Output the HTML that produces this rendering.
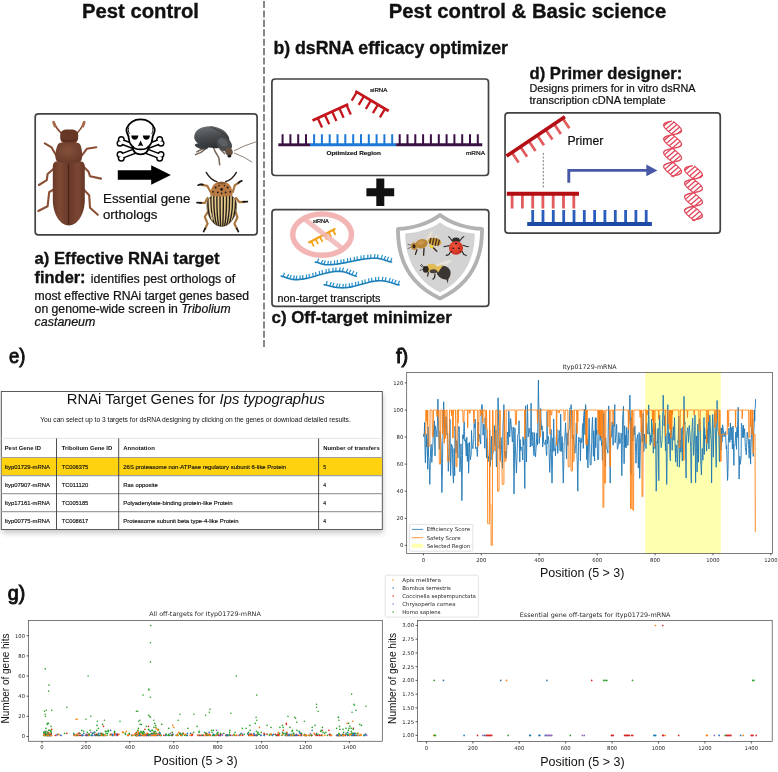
<!DOCTYPE html>
<html lang="en"><head><meta charset="utf-8"><title>dsRNA design figure</title>
<style>
html,body{margin:0;padding:0;background:#fff;}
body{width:778px;height:772px;overflow:hidden;font-family:"Liberation Sans",sans-serif;}
svg{display:block;position:absolute;left:0;top:0;}
text{font-family:"Liberation Sans",sans-serif;fill:#111;}
.b{font-weight:bold;}
.dj{font-family:"DejaVu Sans",sans-serif;fill:#262626;}
.i{font-style:italic;}
.hb{font-weight:bold;stroke:#111;stroke-width:.35px;}
.hr{stroke:#111;stroke-width:.22px;}
.hm{stroke:#111;stroke-width:.9px;}
</style></head><body>
<svg width="778" height="772" viewBox="0 0 778 772">
<rect width="778" height="772" fill="#ffffff"/>
<defs>
<linearGradient id="gEly" x1="0" x2="1" y1="0" y2="0"><stop offset="0" stop-color="#6a3928"/><stop offset="0.22" stop-color="#7d4935"/><stop offset="0.46" stop-color="#6a3a29"/><stop offset="0.54" stop-color="#6a3a29"/><stop offset="0.78" stop-color="#7b4733"/><stop offset="1" stop-color="#653625"/></linearGradient>
<radialGradient id="gPro" cx="0.45" cy="0.4" r="0.7"><stop offset="0" stop-color="#84503a"/><stop offset="1" stop-color="#673828"/></radialGradient>
<linearGradient id="gBlk" x1="0" x2="0.3" y1="0" y2="1"><stop offset="0" stop-color="#72767a"/><stop offset="0.5" stop-color="#4c5052"/><stop offset="1" stop-color="#303234"/></linearGradient>
<radialGradient id="gLady" cx="0.4" cy="0.35" r="0.75"><stop offset="0" stop-color="#f0553a"/><stop offset="1" stop-color="#c8281c"/></radialGradient>
<clipPath id="cpCol"><ellipse cx="221.5" cy="210" rx="15.6" ry="16.6"/></clipPath>
<clipPath id="cpBee"><ellipse cx="0" cy="0" rx="6.9" ry="3.9"/></clipPath>
</defs>
<text x="82" y="17.6" font-size="20" class="hb" textLength="117" lengthAdjust="spacingAndGlyphs">Pest control</text>
<text x="388.7" y="17.6" font-size="20" class="hb" textLength="277.5" lengthAdjust="spacingAndGlyphs">Pest control &amp; Basic science</text>
<text x="273.4" y="53.5" font-size="17.5" class="hb" textLength="234.6" lengthAdjust="spacingAndGlyphs">b) dsRNA efficacy optimizer</text>
<text x="271.5" y="323" font-size="17.2" class="hb" textLength="180.3" lengthAdjust="spacingAndGlyphs">c) Off-target minimizer</text>
<text x="529.5" y="78.8" font-size="16.5" class="hb" textLength="152.7" lengthAdjust="spacingAndGlyphs">d) Primer designer:</text>
<text x="529.5" y="92" font-size="10.8" class="hr" textLength="166" lengthAdjust="spacingAndGlyphs">Designs primers for in vitro dsRNA</text>
<text x="529.5" y="104.4" font-size="10.8" class="hr" textLength="136" lengthAdjust="spacingAndGlyphs">transcription cDNA template</text>
<text x="34.6" y="264" font-size="16.5" class="hb" textLength="185" lengthAdjust="spacingAndGlyphs">a) Effective RNAi target</text>
<text x="34.6" y="283.2" font-size="16.5" class="hb" textLength="51" lengthAdjust="spacingAndGlyphs">finder:</text>
<text x="90.8" y="283.2" font-size="12" class="hr" textLength="144.3" lengthAdjust="spacingAndGlyphs">identifies pest orthologs of</text>
<text x="34.6" y="299.5" font-size="12" class="hr" textLength="214.4" lengthAdjust="spacingAndGlyphs">most effective RNAi target genes based</text>
<text x="34.6" y="312.8" font-size="12" class="hr" textLength="196" lengthAdjust="spacingAndGlyphs">on genome-wide screen in <tspan class="i">Tribolium</tspan></text>
<text x="34.6" y="326" font-size="12" class="i hr" textLength="60.8" lengthAdjust="spacingAndGlyphs">castaneum</text>
<line x1="264" y1="1" x2="264" y2="346.9" stroke="#7b7b7b" stroke-width="1.8" stroke-dasharray="7.1 2.32"/>
<rect x="35.2" y="113.9" width="221.9" height="121" rx="3.2" fill="#fff" stroke="#424242" stroke-width="1.7"/>
<rect x="271.9" y="79" width="216.6" height="96.5" rx="3.2" fill="#fff" stroke="#424242" stroke-width="1.7"/>
<rect x="272" y="209.6" width="216.8" height="96.8" rx="3.2" fill="#fff" stroke="#424242" stroke-width="1.7"/>
<rect x="505.05" y="112.95" width="215.2" height="120.25" rx="3.2" fill="#fff" stroke="#424242" stroke-width="1.7"/>
<path d="M376.3 178.5h8v9.8h9.9v8h-9.9v9.7h-8v-9.7h-9.9v-8h9.9z" fill="#111"/>
<text x="103" y="203" font-size="13.2" class="hr" textLength="87.3" lengthAdjust="spacingAndGlyphs">Essential gene</text>
<text x="103" y="218.5" font-size="13.2" class="hr" textLength="54.5" lengthAdjust="spacingAndGlyphs">orthologs</text>
<path d="M117.8 170.3H151.2V165.3L170.9 175L151.2 184.8V179.8H117.8Z" fill="#000"/>
<path d="M56.5 156 L51.6 147.4 L44.8 143.4 M81.5 156 L86.8 148.8 L96.3 147.2 M54.5 168 L47.6 174 L46.8 180.2 L38.9 185 M82.8 166 L88.4 171.4 L90 176.2 L101 178.6 M54.5 189 L49.2 192.2 L47.6 206.3 L38.3 211 M83.2 189 L89.2 195.2 L90 207.8 L97.8 214.8" stroke="#8b4f36" stroke-width="2.1" fill="none" stroke-linecap="round" stroke-linejoin="round"/>
<path d="M61.5 133.5 Q57 129 54.6 124.5 M76.8 133.5 Q81 129 83.2 124.5" stroke="#8a4f36" stroke-width="1.7" fill="none" stroke-linecap="round"/>
<path d="M55 126 L53.6 122.3 M82.9 126 L84.2 122.3" stroke="#a8694a" stroke-width="2.8" fill="none" stroke-linecap="round"/>
<rect x="60.2" y="129.6" width="18" height="14" rx="5.5" fill="#673726"/>
<path d="M62.5 139.5 Q69 143 76 139.5" stroke="#4a2316" stroke-width="0.9" fill="none"/>
<path d="M52.8 166.5 Q52.8 161.2 58 161.2 H79.5 Q84.8 161.2 84.8 166.5 V200 C84.8 214 77.5 225.5 68.8 225.5 C60.1 225.5 52.8 214 52.8 200Z" fill="url(#gEly)"/>
<path d="M68.6 164 V224.5" stroke="#3f1d12" stroke-width="0.9"/>
<path d="M57 146.5 Q58 142.6 62 142.6 H76 Q80 142.6 81 146.5 Q83 154 81.8 159 Q81 162.4 77 162.4 H60.5 Q56.5 162.4 55.7 159 Q54.5 154 57 146.5Z" fill="url(#gPro)"/>
<line x1="121.2" y1="141.6" x2="159.8" y2="156.2" stroke="#000" stroke-width="6" stroke-linecap="butt"/>
<circle cx="121.3" cy="139.6" r="3.5" fill="#000"/>
<circle cx="120.0" cy="143.2" r="3.5" fill="#000"/>
<circle cx="161.0" cy="154.6" r="3.5" fill="#000"/>
<circle cx="159.7" cy="158.2" r="3.5" fill="#000"/>
<line x1="121.2" y1="141.6" x2="159.8" y2="156.2" stroke="#fff" stroke-width="3.1"/>
<circle cx="121.3" cy="139.6" r="2.05" fill="#fff"/>
<circle cx="120.0" cy="143.2" r="2.05" fill="#fff"/>
<circle cx="161.0" cy="154.6" r="2.05" fill="#fff"/>
<circle cx="159.7" cy="158.2" r="2.05" fill="#fff"/>
<line x1="159.8" y1="141.6" x2="121.2" y2="156.2" stroke="#000" stroke-width="6" stroke-linecap="butt"/>
<circle cx="161.0" cy="143.2" r="3.5" fill="#000"/>
<circle cx="159.7" cy="139.6" r="3.5" fill="#000"/>
<circle cx="121.3" cy="158.2" r="3.5" fill="#000"/>
<circle cx="120.0" cy="154.6" r="3.5" fill="#000"/>
<line x1="159.8" y1="141.6" x2="121.2" y2="156.2" stroke="#fff" stroke-width="3.1"/>
<circle cx="161.0" cy="143.2" r="2.05" fill="#fff"/>
<circle cx="159.7" cy="139.6" r="2.05" fill="#fff"/>
<circle cx="121.3" cy="158.2" r="2.05" fill="#fff"/>
<circle cx="120.0" cy="154.6" r="2.05" fill="#fff"/>
<path d="M140.6 119.4 C133 119.4 128.6 124 126.6 128.6 C125.6 131.5 127.4 133.5 128.4 136 C129 139 128.8 142 130.6 144.2 C132 145.6 132.6 146.6 132.8 148.2 C133.4 152.8 137 154.4 140.6 154.4 C144.2 154.4 147.8 152.8 148.4 148.2 C148.6 146.6 149.2 145.6 150.6 144.2 C152.4 142 152.2 139 152.8 136 C153.8 133.5 155.6 131.5 154.6 128.6 C152.6 124 148.2 119.4 140.6 119.4Z" fill="#fff" stroke="#000" stroke-width="1.8" stroke-linejoin="round"/>
<path d="M132.6 146 C134.5 150.5 146.7 150.5 148.6 146" fill="none" stroke="#000" stroke-width="1.7"/>
<path d="M128.8 127.5 C127.6 130 128.6 132 129.4 134 M152.4 127.5 C153.6 130 152.6 132 151.8 134" fill="none" stroke="#000" stroke-width="0.9"/>
<path d="M131.2 135.4 H138.4 Q137.8 139.8 134.8 139.8 Q131.8 139.8 131.2 135.4Z M142.8 135.4 H150 Q149.4 139.8 146.4 139.8 Q143.4 139.8 142.8 135.4Z" fill="#000"/>
<path d="M140.6 140.4 L143.3 146.2 Q140.6 144.8 137.9 146.2Z" fill="#000"/>
<path d="M234 150.9 Q245 145 255.8 141.9 M234 153 Q244 156.4 252.2 162.2" stroke="#7d6b5e" stroke-width="0.85" fill="none"/>
<path d="M213 146.5 L215.4 152 L218.8 157.6 L219.7 164.8 M208 147 L201 152.4 L195.4 154.6 M204 148 L196.8 151.8 M220 149 L224.5 153.6" stroke="#77665a" stroke-width="1.5" fill="none" stroke-linecap="round" stroke-linejoin="round"/>
<ellipse cx="201.4" cy="146.4" rx="6.8" ry="2.6" transform="rotate(14 201.4 146.4)" fill="#3b3f41"/>
<path d="M194.2 137 C194.2 129 203 125.6 211.5 126.2 C221 127 228.5 132.6 229.4 139.6 C229.8 143 228 146.6 224 147.6 C214 149.6 194.6 147 194.2 137Z" fill="url(#gBlk)"/>
<path d="M210.4 126.6 Q221 130.4 228.6 138" stroke="#2e3032" stroke-width="0.7" fill="none"/>
<ellipse cx="224.2" cy="144.2" rx="8.6" ry="6.5" transform="rotate(38 224.2 144.2)" fill="#464a4c"/>
<ellipse cx="223" cy="142.4" rx="5.4" ry="3.6" transform="rotate(38 223 142.4)" fill="#5b5f61"/>
<ellipse cx="228.9" cy="151.6" rx="3.7" ry="4.2" transform="rotate(-25 228.9 151.6)" fill="#66503f"/>
<ellipse cx="229.4" cy="156" rx="2" ry="1.5" fill="#1f1d1c"/>
<path d="M210.6 192 L207.2 185.8 L201 184.6 M232.8 192 L234.8 185.2 L239 182.6 M207.5 198 L204.8 203 L200 202.8 M236 198 L239.4 202.2 L244.6 201.8 M207.6 212.2 L204.8 216.8 L207.6 223.6 L205 229 M235.8 212.2 L237.4 217.6 L234.4 223.8 L237 229" stroke="#a9783f" stroke-width="2.2" fill="none" stroke-linecap="round" stroke-linejoin="round"/>
<path d="M203 184.6 Q200.4 183.8 198.2 185.2 M238.2 183 Q240 181.2 241.8 180.8 M201.4 202.8 L197 202.6 M243 201.8 L247.4 201.6 M205.2 228.4 L203.6 231.6 M236.8 228.4 L238.4 231.6" stroke="#1a1613" stroke-width="1.7" fill="none" stroke-linecap="round"/>
<path d="M217 181.8 Q210.6 180 206.2 172.4 M225.6 181.6 Q232.2 180 236.4 172.4" stroke="#2a201a" stroke-width="1.4" fill="none" stroke-linecap="round"/>
<clipPath id="cpCol2"><path d="M221.7 194 C230.5 193.2 236.6 197 236.6 205.5 C236.6 216.5 230 226.4 221.7 226.4 C213.4 226.4 206.9 216.5 206.9 205.5 C206.9 197 212.9 193.2 221.7 194Z"/></clipPath>
<path d="M221.7 194 C230.5 193.2 236.6 197 236.6 205.5 C236.6 216.5 230 226.4 221.7 226.4 C213.4 226.4 206.9 216.5 206.9 205.5 C206.9 197 212.9 193.2 221.7 194Z" fill="#e6c888"/>
<g clip-path="url(#cpCol2)"><path d="M208.1 192 Q206.5 214 213.6 227M211.1 192 Q209.8 214 215.4 227M214.0 192 Q213.1 214 217.1 227M217.0 192 Q216.4 214 218.9 227M220.1 192 Q219.9 214 220.7 227M223.3 192 Q223.5 214 222.7 227M226.4 192 Q227.0 214 224.5 227M229.4 192 Q230.3 214 226.2 227M232.3 192 Q233.6 214 228.0 227M235.3 192 Q236.9 214 229.8 227" stroke="#26201b" stroke-width="1.4" fill="none"/><path d="M209.6 199 Q208.6 210 213 220" stroke="#f6ead0" stroke-width="0.9" fill="none" opacity="0.8"/></g>
<path d="M221.7 194 C230.5 193.2 236.6 197 236.6 205.5 C236.6 216.5 230 226.4 221.7 226.4 C213.4 226.4 206.9 216.5 206.9 205.5 C206.9 197 212.9 193.2 221.7 194Z" fill="none" stroke="#3a2a1c" stroke-width="0.6"/>
<path d="M210 195.2 Q210.6 186 216 182.8 Q221.6 180.6 227.2 182.8 Q232.8 186 232.6 195.2 Q221.6 197.6 210 195.2Z" fill="#b97a43"/>
<path d="M216.5 183 Q221.6 180.4 226.8 183 Q221.6 185.5 216.5 183Z" fill="#8a5a30"/>
<circle cx="215.6" cy="187.6" r="1.0" fill="#1c1512"/><circle cx="227.6" cy="187.6" r="1.0" fill="#1c1512"/><circle cx="221.6" cy="189.4" r="1.3" fill="#1c1512"/><circle cx="213" cy="191.8" r="0.9" fill="#1c1512"/><circle cx="230.2" cy="191.8" r="0.9" fill="#1c1512"/><circle cx="217.8" cy="192.4" r="0.9" fill="#1c1512"/><circle cx="225.6" cy="192.4" r="0.9" fill="#1c1512"/><circle cx="219" cy="185.6" r="0.8" fill="#1c1512"/><circle cx="224.4" cy="185.6" r="0.8" fill="#1c1512"/><circle cx="221.6" cy="193.4" r="0.8" fill="#1c1512"/>
<path d="M282.6 144.8V134.2M290.4 144.8V134.2M298.2 144.8V134.2M306.0 144.8V134.2" stroke="#3b1143" stroke-width="2.0" fill="none"/>
<path d="M314.1 144.8V134.2M321.9 144.8V134.2M329.7 144.8V134.2M337.5 144.8V134.2M345.3 144.8V134.2M353.2 144.8V134.2M361.0 144.8V134.2M368.8 144.8V134.2M376.6 144.8V134.2M384.4 144.8V134.2M392.2 144.8V134.2" stroke="#1e78d6" stroke-width="2.0" fill="none"/>
<path d="M399.7 144.8V134.2M407.5 144.8V134.2M415.3 144.8V134.2M423.1 144.8V134.2M430.9 144.8V134.2M438.8 144.8V134.2M446.6 144.8V134.2M454.4 144.8V134.2M462.2 144.8V134.2M470.0 144.8V134.2M477.8 144.8V134.2" stroke="#3b1143" stroke-width="2.0" fill="none"/>
<line x1="278.3" y1="144.8" x2="310" y2="144.8" stroke="#3b1143" stroke-width="2.9"/>
<line x1="310" y1="144.8" x2="396.1" y2="144.8" stroke="#1e78d6" stroke-width="2.9"/>
<line x1="396.1" y1="144.8" x2="482.3" y2="144.8" stroke="#3b1143" stroke-width="2.9"/>
<path d="M317.78 118.19L322.05 127.56M324.96 114.91L329.24 124.28M332.15 111.63L336.43 121.00M339.34 108.35L343.61 117.72M346.52 105.07L350.80 114.44" stroke="#c4161c" stroke-width="2.3" fill="none"/>
<line x1="312.50" y1="120.60" x2="348.20" y2="104.30" stroke="#c4161c" stroke-width="2.8"/>
<path d="M356.85 92.02L351.73 100.61M363.89 96.22L358.77 104.81M370.94 100.42L365.82 109.01M377.98 104.61L372.86 113.20M385.02 108.81L379.91 117.40" stroke="#c4161c" stroke-width="2.3" fill="none"/>
<line x1="355.30" y1="91.10" x2="388.70" y2="111.00" stroke="#c4161c" stroke-width="2.8"/>
<text x="370" y="91.8" font-size="5.6" class="hr" textLength="17.4" lengthAdjust="spacingAndGlyphs">siRNA</text>
<text x="326.5" y="155.4" font-size="6" class="b" textLength="54.3" lengthAdjust="spacingAndGlyphs" stroke="#111" stroke-width="0.15">Optimized Region</text>
<text x="466" y="155.3" font-size="5.6" class="hr" textLength="19" lengthAdjust="spacingAndGlyphs">mRNA</text>
<path d="M311.24 241.33L313.82 246.30M315.59 239.07L318.17 244.04M319.94 236.82L322.52 241.79M324.29 234.56L326.87 239.53M328.64 232.30L331.22 237.28M332.99 230.05L335.57 235.02" stroke="#f5a21b" stroke-width="1.8" fill="none"/>
<line x1="308.40" y1="242.80" x2="335.40" y2="228.80" stroke="#f5a21b" stroke-width="2.3"/>
<ellipse cx="322.1" cy="234.6" rx="29.4" ry="20.6" fill="none" stroke="#f2b5b4" stroke-width="5.4"/>
<line x1="302.6" y1="217.6" x2="342.4" y2="248.4" stroke="#f2b5b4" stroke-width="5" stroke-opacity="0.85"/>
<text x="312.9" y="222.9" font-size="5.6" class="hr" textLength="16" lengthAdjust="spacingAndGlyphs">siRNA</text>
<path d="M317.3 262.5l1.4 -3.9M321.1 263.8l1.8 -3.8M324.0 264.4l1.3 -3.9M327.8 264.8l0.6 -4.0M330.6 264.7l0.4 -4.0M334.4 264.4l0.2 -4.0M337.3 264.1l0.1 -4.0M341.1 263.5l-0.1 -3.9M343.9 263.0l-0.1 -3.9M347.7 262.2l-0.2 -3.9M350.6 261.6l-0.2 -3.9M354.4 260.8l-0.2 -3.9M357.3 260.2l-0.2 -3.9M361.1 259.5l-0.1 -3.9M363.9 259.1l0.0 -4.0M367.7 258.6l0.2 -4.0M370.6 258.4l0.3 -4.0M374.4 258.2l0.6 -4.0M377.2 258.3l0.9 -4.0M381.0 258.9l1.5 -3.9M383.9 259.7l1.8 -3.8M386.7 260.7l2.0 -3.8M390.5 261.8l1.4 -3.9" stroke="#2b93cc" stroke-width="1.25" fill="none"/>
<path d="M315.4 262.1L316.4 262.3L317.3 262.5L318.3 262.7L319.2 263.1L320.2 263.4L321.1 263.8L322.1 264.0L323.0 264.3L324.0 264.4L324.9 264.6L325.9 264.7L326.8 264.7L327.8 264.8L328.7 264.7L329.7 264.7L330.6 264.7L331.6 264.6L332.5 264.6L333.5 264.5L334.4 264.4L335.4 264.3L336.3 264.2L337.3 264.1L338.2 263.9L339.2 263.8L340.1 263.6L341.1 263.5L342.0 263.3L343.0 263.1L343.9 263.0L344.9 262.8L345.8 262.6L346.8 262.4L347.7 262.2L348.7 262.0L349.6 261.8L350.6 261.6L351.5 261.4L352.5 261.2L353.4 261.0L354.4 260.8L355.4 260.6L356.3 260.4L357.3 260.2L358.2 260.1L359.2 259.9L360.1 259.7L361.1 259.5L362.0 259.4L363.0 259.2L363.9 259.1L364.9 259.0L365.8 258.8L366.8 258.7L367.7 258.6L368.7 258.5L369.6 258.5L370.6 258.4L371.5 258.3L372.5 258.3L373.4 258.3L374.4 258.2L375.3 258.2L376.3 258.3L377.2 258.3L378.2 258.4L379.1 258.6L380.1 258.7L381.0 258.9L382.0 259.2L382.9 259.4L383.9 259.7L384.8 260.0L385.8 260.4L386.7 260.7L387.7 261.1L388.6 261.4L389.6 261.6L390.5 261.8L391.5 262.0" stroke="#1c7fb9" stroke-width="1.6" fill="none" stroke-linecap="round"/>
<path d="M283.1 276.6l1.4 -3.9M286.8 277.9l2.0 -3.8M289.7 278.8l1.6 -3.9M293.4 279.5l1.0 -4.0M296.2 279.6l0.6 -4.0M300.0 279.4l0.2 -4.0M302.8 279.1l0.0 -4.0M306.6 278.4l-0.2 -3.9M309.4 277.7l-0.4 -3.9M313.2 276.7l-0.5 -3.8M316.0 275.9l-0.5 -3.8M319.7 274.8l-0.5 -3.8M322.6 274.0l-0.5 -3.9M326.3 273.0l-0.3 -3.9M329.1 272.4l-0.2 -3.9M332.9 271.7l0.1 -4.0M335.7 271.5l0.3 -4.0M339.5 271.4l0.7 -4.0M342.3 271.6l1.2 -4.0M346.1 272.5l1.8 -3.8M348.9 273.5l2.1 -3.7M351.7 274.7l2.2 -3.7M355.5 276.0l1.5 -3.9" stroke="#2b93cc" stroke-width="1.25" fill="none"/>
<path d="M281.2 276.1L282.1 276.4L283.1 276.6L284.0 276.8L285.0 277.2L285.9 277.5L286.8 277.9L287.8 278.2L288.7 278.5L289.7 278.8L290.6 279.0L291.5 279.2L292.5 279.4L293.4 279.5L294.4 279.6L295.3 279.6L296.2 279.6L297.2 279.6L298.1 279.6L299.1 279.5L300.0 279.4L300.9 279.3L301.9 279.2L302.8 279.1L303.8 278.9L304.7 278.8L305.6 278.6L306.6 278.4L307.5 278.2L308.5 278.0L309.4 277.7L310.3 277.5L311.3 277.2L312.2 277.0L313.2 276.7L314.1 276.4L315.0 276.2L316.0 275.9L316.9 275.6L317.9 275.3L318.8 275.1L319.7 274.8L320.7 274.5L321.6 274.2L322.6 274.0L323.5 273.7L324.4 273.5L325.4 273.2L326.3 273.0L327.3 272.8L328.2 272.6L329.1 272.4L330.1 272.2L331.0 272.0L332.0 271.9L332.9 271.7L333.8 271.6L334.8 271.5L335.7 271.5L336.7 271.4L337.6 271.4L338.5 271.4L339.5 271.4L340.4 271.4L341.4 271.5L342.3 271.6L343.2 271.8L344.2 272.0L345.1 272.2L346.1 272.5L347.0 272.8L347.9 273.2L348.9 273.5L349.8 273.9L350.8 274.3L351.7 274.7L352.6 275.1L353.6 275.5L354.5 275.7L355.5 276.0L356.4 276.2" stroke="#1c7fb9" stroke-width="1.6" fill="none" stroke-linecap="round"/>
<path d="M326.0 285.0l1.2 -4.0M329.7 286.0l1.7 -3.9M332.5 286.7l1.5 -3.9M336.3 287.4l1.2 -4.0M339.1 287.7l0.9 -4.0M342.8 287.9l0.5 -4.0M345.6 287.7l0.3 -4.0M349.4 287.2l-0.0 -3.9M352.2 286.7l-0.2 -3.9M355.9 285.8l-0.4 -3.9M358.7 285.1l-0.5 -3.8M362.5 284.0l-0.5 -3.8M365.3 283.2l-0.5 -3.9M369.0 282.2l-0.3 -3.9M371.8 281.6l-0.1 -3.9M375.6 281.0l0.1 -4.0M378.4 280.8l0.4 -4.0M382.1 280.8l0.8 -4.0M385.0 281.1l1.2 -4.0M388.7 281.9l1.6 -3.9M391.5 282.7l1.8 -3.8M394.3 283.7l1.9 -3.8M398.1 284.7l1.3 -3.9" stroke="#2b93cc" stroke-width="1.25" fill="none"/>
<path d="M324.1 284.7L325.0 284.9L326.0 285.0L326.9 285.2L327.8 285.4L328.8 285.7L329.7 286.0L330.7 286.2L331.6 286.5L332.5 286.7L333.5 286.9L334.4 287.1L335.3 287.3L336.3 287.4L337.2 287.5L338.1 287.6L339.1 287.7L340.0 287.8L341.0 287.8L341.9 287.9L342.8 287.9L343.8 287.8L344.7 287.8L345.6 287.7L346.6 287.6L347.5 287.5L348.4 287.4L349.4 287.2L350.3 287.1L351.3 286.9L352.2 286.7L353.1 286.5L354.1 286.3L355.0 286.1L355.9 285.8L356.9 285.6L357.8 285.3L358.7 285.1L359.7 284.8L360.6 284.5L361.6 284.2L362.5 284.0L363.4 283.7L364.4 283.4L365.3 283.2L366.2 282.9L367.2 282.7L368.1 282.4L369.0 282.2L370.0 282.0L370.9 281.8L371.8 281.6L372.8 281.4L373.7 281.3L374.7 281.2L375.6 281.0L376.5 280.9L377.5 280.9L378.4 280.8L379.3 280.8L380.3 280.8L381.2 280.8L382.1 280.8L383.1 280.9L384.0 281.0L385.0 281.1L385.9 281.3L386.8 281.5L387.8 281.7L388.7 281.9L389.6 282.2L390.6 282.4L391.5 282.7L392.4 283.1L393.4 283.4L394.3 283.7L395.3 284.1L396.2 284.4L397.1 284.6L398.1 284.7L399.0 284.9" stroke="#1c7fb9" stroke-width="1.6" fill="none" stroke-linecap="round"/>
<text x="277.5" y="301.6" font-size="10.9" class="hr" textLength="103" lengthAdjust="spacingAndGlyphs">non-target transcripts</text>
<path d="M440 215 C428.5 224 411 228.8 398 228.8 C397.6 262 412 285.5 440 298.4 C468 285.5 482.4 262 482 228.8 C469 228.8 451.5 224 440 215Z" fill="#fff" stroke="#b2b2b2" stroke-width="3.8" stroke-linejoin="round"/>
<path d="M440 222.6 C430.5 229.4 417 233 405.2 233.4 C405 259 416.5 280.5 440 292.6 C463.5 280.5 475 259 474.8 233.4 C463 233 449.5 229.4 440 222.6Z" fill="#d3d3d3"/>
<path d="M425 241.6 Q427.5 233 433.2 229.6 Q433.6 235.4 428.6 241.8Z M426.6 241.6 Q433 235.4 439.6 234.8 Q436 239.8 429.6 242.6Z" fill="#e8e2d4" fill-opacity="0.8" stroke="#cfc7b6" stroke-width="0.3"/>
<path d="M417 249.6 L415.4 254.4 M424 248.4 L423.6 255.2" stroke="#2f2319" stroke-width="1.3" fill="none" stroke-linecap="round"/>
<path d="M430.4 246 L433 247.6" stroke="#f0cc1e" stroke-width="2.2" fill="none" stroke-linecap="round"/>
<path d="M433.6 248 L436.8 251.2" stroke="#2f2319" stroke-width="1.3" fill="none" stroke-linecap="round"/>
<path d="M412 245.4 L407.6 244.2 M412 247 L407.6 248.6" stroke="#3a2c20" stroke-width="0.6" fill="none"/>
<g transform="translate(434.6 241.8) rotate(12)"><ellipse cx="0" cy="0" rx="6.9" ry="3.9" fill="#d3a23c"/><g clip-path="url(#cpBee)"><path d="M-4.4 -6V6M-1.5 -6V6M1.4 -6V6M4.2 -6V6" stroke="#4a341f" stroke-width="1.45"/></g></g>
<ellipse cx="421.6" cy="243.8" rx="6.2" ry="4.6" transform="rotate(-14 421.6 243.8)" fill="#b98536"/>
<ellipse cx="421" cy="242.6" rx="3.6" ry="2.2" transform="rotate(-14 421 242.6)" fill="#c9974a"/>
<ellipse cx="414.3" cy="246.2" rx="3.3" ry="3.8" fill="#c08c3e"/>
<ellipse cx="414" cy="246.2" rx="1.45" ry="2.0" fill="#2a1d14"/>
<path d="M452 240.8 L450 238 L448.6 236.6 M460 240.8 L462 238 L463.8 236.6 M449.4 245.6 L446 246.2 L444 246.6 M463 245.3 L466 246.2 L468.2 246.6 M450.6 251.8 L448.8 254.6 L446.2 255.4 M462.2 251.6 L464 254.6 L466.4 255.4" stroke="#26282a" stroke-width="1.1" fill="none" stroke-linecap="round" stroke-linejoin="round"/>
<ellipse cx="456" cy="240.4" rx="3.9" ry="2.8" fill="#2a2c2e"/>
<ellipse cx="456" cy="247.9" rx="7.05" ry="6.8" fill="url(#gLady)"/>
<ellipse cx="453.2" cy="248.2" rx="1.1" ry="0.8" fill="#2a1a18"/><ellipse cx="459" cy="248.2" rx="1.1" ry="0.8" fill="#2a1a18"/><circle cx="456" cy="243.4" r="1" fill="#2a1a18"/><circle cx="451.4" cy="251.6" r="0.7" fill="#2a1a18"/><circle cx="460.8" cy="251.6" r="0.7" fill="#2a1a18"/>
<path d="M434 266.4 Q442 260.4 453 259.6 Q449.6 264.6 438.6 267.6Z M435 267 Q442 263.8 449.4 264.6 Q444 267.8 437.4 268.8Z" fill="#ece8df" fill-opacity="0.85" stroke="#d2cbbd" stroke-width="0.3"/>
<path d="M428.4 272.6 L427.6 276.2 M435 274 L434.6 277.4 L433 279.2" stroke="#2a241f" stroke-width="1.2" fill="none" stroke-linecap="round"/>
<path d="M423.6 267.6 L420 265.4 M423.4 269 L419.6 270.6 M423.8 266.8 L421 264" stroke="#2a241f" stroke-width="0.7" fill="none"/>
<path d="M437.5 268 C441 264.2 448 265.6 450.2 270.4 C451.4 274 449.8 277 448.4 279 L447.8 283.6 L446.4 279.6 C442 279.4 437.4 276.6 436.6 272.4Z" fill="#3b3632"/>
<path d="M436 267.2 Q439.6 264.6 443.2 265.4 Q440.4 268.6 438.2 272.4 Q436 270.4 436 267.2Z" fill="#e2be58"/>
<ellipse cx="431.6" cy="268.2" rx="5.8" ry="4.4" fill="#e1bc56"/>
<ellipse cx="433.4" cy="271.2" rx="3.6" ry="2" fill="#4a423a"/>
<ellipse cx="425.8" cy="269.4" rx="2.9" ry="3.3" fill="#2e2924"/>
<path d="M511.89 152.46L518.60 162.41M520.34 146.76L527.06 156.71M528.80 141.06L535.51 151.00M537.26 135.35L543.97 145.30M545.71 129.65L552.42 139.59M554.17 123.94L560.88 133.89M562.62 118.24L569.33 128.18" stroke="#e25c5e" stroke-width="2.7" fill="none"/>
<line x1="506.50" y1="156.10" x2="564.90" y2="116.70" stroke="#b30f14" stroke-width="3.6"/>
<text x="567.4" y="145.3" font-size="12.2" class="hr" textLength="36" lengthAdjust="spacingAndGlyphs">Primer</text>
<line x1="543.3" y1="152.9" x2="543.3" y2="188" stroke="#555" stroke-width="0.8" stroke-dasharray="2 1.6"/>
<path d="M512.1 194V208.4M522.4 194V208.4M532.7 194V208.4M542.9 194V208.4M553.2 194V208.4M563.5 194V208.4M573.8 194V208.4" stroke="#e25c5e" stroke-width="2.8" fill="none"/>
<line x1="506.8" y1="193.8" x2="579" y2="193.8" stroke="#b30f14" stroke-width="4"/>
<path d="M532.7 224V210M543.0 224V210M553.3 224V210M563.7 224V210M574.0 224V210M584.3 224V210M594.6 224V210M604.9 224V210M615.3 224V210M625.6 224V210M635.9 224V210M646.2 224V210" stroke="#2b5dbd" stroke-width="2.8" fill="none"/>
<line x1="527.2" y1="224.1" x2="651.9" y2="224.1" stroke="#1b49a4" stroke-width="4"/>
<path d="M568.8 182.8V170.4H648" stroke="#4658a7" stroke-width="2.9" fill="none"/>
<path d="M646.3 164.6L657.4 170.4L646.3 176.2z" fill="#4658a7"/>
<clipPath id="hx1"><path d="M673.7 121.5L674.5 121.9L675.2 122.3L676.0 122.7L676.7 123.1L677.4 123.5L678.0 123.9L678.7 124.2L679.2 124.6L679.7 125.0L680.2 125.4L680.6 125.8L680.9 126.2L681.1 126.6L681.3 127.0L681.5 127.4L681.5 127.8L681.5 128.2L681.4 128.6L681.2 129.0L681.0 129.4L680.7 129.8L680.3 130.1L679.9 130.5L679.4 130.9L678.8 131.3L678.3 131.7L677.6 132.1L676.9 132.5L676.2 132.9L675.5 133.3L674.7 133.7L673.9 134.1L673.1 134.5L672.3 134.9L671.5 135.2L670.7 135.6L670.0 136.0L669.2 136.4L668.5 136.8L667.8 137.2L667.2 137.6L666.5 138.0L666.0 138.4L665.5 138.8L665.0 139.2L664.6 139.6L664.3 140.0L664.1 140.4L663.9 140.8L663.7 141.1L663.7 141.5L663.7 141.9L663.8 142.3L664.0 142.7L664.2 143.1L664.5 143.5L664.9 143.9L665.3 144.3L665.8 144.7L666.4 145.1L666.9 145.5L667.6 145.9L668.3 146.2L669.0 146.6L669.7 147.0L670.5 147.4L671.3 147.8L672.1 148.2L672.9 148.6L673.7 149.0L674.5 149.4L675.2 149.8L676.0 150.2L676.7 150.6L677.4 151.0L678.0 151.4L678.7 151.8L679.2 152.1L679.7 152.5L680.2 152.9L680.6 153.3L680.9 153.7L681.1 154.1L681.3 154.5L681.5 154.9L681.5 155.3L681.5 155.7L681.4 156.1L681.2 156.5L681.0 156.9L680.7 157.2L680.3 157.6L679.9 158.0L679.4 158.4L678.8 158.8L678.3 159.2L677.6 159.6L676.9 160.0L676.2 160.4L675.5 160.8L674.7 161.2L673.9 161.6L673.1 162.0L672.3 162.4L671.5 162.8L670.7 163.1L670.0 163.5L669.2 163.9L668.5 164.3L667.8 164.7L667.2 165.1L666.5 165.5L666.0 165.9L665.5 166.3L665.0 166.7L664.6 167.1L664.3 167.5L664.1 167.9L663.9 168.2L663.7 168.6L663.7 169.0L663.7 169.4L663.8 169.8L664.0 170.2L664.2 170.6L664.5 171.0L664.9 171.4L665.3 171.8L665.8 172.2L666.4 172.6L666.9 173.0L667.6 173.4L668.3 173.8L669.0 174.1L669.7 174.5L670.5 174.9L671.3 175.3L672.1 175.7L672.9 176.1L673.7 176.5L671.5 176.5L672.3 176.1L673.1 175.7L673.9 175.3L674.7 174.9L675.5 174.5L676.2 174.1L676.9 173.8L677.6 173.4L678.3 173.0L678.8 172.6L679.4 172.2L679.9 171.8L680.3 171.4L680.7 171.0L681.0 170.6L681.2 170.2L681.4 169.8L681.5 169.4L681.5 169.0L681.5 168.6L681.3 168.2L681.1 167.9L680.9 167.5L680.6 167.1L680.2 166.7L679.7 166.3L679.2 165.9L678.7 165.5L678.0 165.1L677.4 164.7L676.7 164.3L676.0 163.9L675.2 163.5L674.5 163.1L673.7 162.8L672.9 162.4L672.1 162.0L671.3 161.6L670.5 161.2L669.7 160.8L669.0 160.4L668.3 160.0L667.6 159.6L666.9 159.2L666.4 158.8L665.8 158.4L665.3 158.0L664.9 157.6L664.5 157.2L664.2 156.9L664.0 156.5L663.8 156.1L663.7 155.7L663.7 155.3L663.7 154.9L663.9 154.5L664.1 154.1L664.3 153.7L664.6 153.3L665.0 152.9L665.5 152.5L666.0 152.1L666.5 151.8L667.2 151.4L667.8 151.0L668.5 150.6L669.2 150.2L670.0 149.8L670.7 149.4L671.5 149.0L672.3 148.6L673.1 148.2L673.9 147.8L674.7 147.4L675.5 147.0L676.2 146.6L676.9 146.2L677.6 145.9L678.3 145.5L678.8 145.1L679.4 144.7L679.9 144.3L680.3 143.9L680.7 143.5L681.0 143.1L681.2 142.7L681.4 142.3L681.5 141.9L681.5 141.5L681.5 141.1L681.3 140.8L681.1 140.4L680.9 140.0L680.6 139.6L680.2 139.2L679.7 138.8L679.2 138.4L678.7 138.0L678.0 137.6L677.4 137.2L676.7 136.8L676.0 136.4L675.2 136.0L674.5 135.6L673.7 135.2L672.9 134.9L672.1 134.5L671.3 134.1L670.5 133.7L669.7 133.3L669.0 132.9L668.3 132.5L667.6 132.1L666.9 131.7L666.4 131.3L665.8 130.9L665.3 130.5L664.9 130.1L664.5 129.8L664.2 129.4L664.0 129.0L663.8 128.6L663.7 128.2L663.7 127.8L663.7 127.4L663.9 127.0L664.1 126.6L664.3 126.2L664.6 125.8L665.0 125.4L665.5 125.0L666.0 124.6L666.5 124.2L667.2 123.9L667.8 123.5L668.5 123.1L669.2 122.7L670.0 122.3L670.7 121.9L671.5 121.5Z" clip-rule="evenodd"/></clipPath><g transform="translate(672.6 149.0) skewY(16) translate(-672.6 -149.0)"><path d="M662.7 115.1L682.5 92.3M662.7 120.0L682.5 97.2M662.7 124.9L682.5 102.1M662.7 129.8L682.5 107.0M662.7 134.7L682.5 111.9M662.7 139.6L682.5 116.8M662.7 144.5L682.5 121.7M662.7 149.4L682.5 126.6M662.7 154.3L682.5 131.5M662.7 159.2L682.5 136.4M662.7 164.1L682.5 141.3M662.7 169.0L682.5 146.2M662.7 173.9L682.5 151.1M662.7 178.8L682.5 156.0M662.7 183.7L682.5 160.9M662.7 188.6L682.5 165.8M662.7 193.5L682.5 170.7M662.7 198.4L682.5 175.6M662.7 203.3L682.5 180.5" stroke="#e2475b" stroke-width="1.15" fill="none" clip-path="url(#hx1)"/><path d="M673.7 121.5L674.5 121.9L675.2 122.3L676.0 122.7L676.7 123.1L677.4 123.5L678.0 123.9L678.7 124.2L679.2 124.6L679.7 125.0L680.2 125.4L680.6 125.8L680.9 126.2L681.1 126.6L681.3 127.0L681.5 127.4L681.5 127.8L681.5 128.2L681.4 128.6L681.2 129.0L681.0 129.4L680.7 129.8L680.3 130.1L679.9 130.5L679.4 130.9L678.8 131.3L678.3 131.7L677.6 132.1L676.9 132.5L676.2 132.9L675.5 133.3L674.7 133.7L673.9 134.1L673.1 134.5L672.3 134.9L671.5 135.2L670.7 135.6L670.0 136.0L669.2 136.4L668.5 136.8L667.8 137.2L667.2 137.6L666.5 138.0L666.0 138.4L665.5 138.8L665.0 139.2L664.6 139.6L664.3 140.0L664.1 140.4L663.9 140.8L663.7 141.1L663.7 141.5L663.7 141.9L663.8 142.3L664.0 142.7L664.2 143.1L664.5 143.5L664.9 143.9L665.3 144.3L665.8 144.7L666.4 145.1L666.9 145.5L667.6 145.9L668.3 146.2L669.0 146.6L669.7 147.0L670.5 147.4L671.3 147.8L672.1 148.2L672.9 148.6L673.7 149.0L674.5 149.4L675.2 149.8L676.0 150.2L676.7 150.6L677.4 151.0L678.0 151.4L678.7 151.8L679.2 152.1L679.7 152.5L680.2 152.9L680.6 153.3L680.9 153.7L681.1 154.1L681.3 154.5L681.5 154.9L681.5 155.3L681.5 155.7L681.4 156.1L681.2 156.5L681.0 156.9L680.7 157.2L680.3 157.6L679.9 158.0L679.4 158.4L678.8 158.8L678.3 159.2L677.6 159.6L676.9 160.0L676.2 160.4L675.5 160.8L674.7 161.2L673.9 161.6L673.1 162.0L672.3 162.4L671.5 162.8L670.7 163.1L670.0 163.5L669.2 163.9L668.5 164.3L667.8 164.7L667.2 165.1L666.5 165.5L666.0 165.9L665.5 166.3L665.0 166.7L664.6 167.1L664.3 167.5L664.1 167.9L663.9 168.2L663.7 168.6L663.7 169.0L663.7 169.4L663.8 169.8L664.0 170.2L664.2 170.6L664.5 171.0L664.9 171.4L665.3 171.8L665.8 172.2L666.4 172.6L666.9 173.0L667.6 173.4L668.3 173.8L669.0 174.1L669.7 174.5L670.5 174.9L671.3 175.3L672.1 175.7L672.9 176.1L673.7 176.5" stroke="#e2475b" stroke-width="1.3" fill="none" stroke-linejoin="round" stroke-linecap="round"/><path d="M671.5 121.5L670.7 121.9L670.0 122.3L669.2 122.7L668.5 123.1L667.8 123.5L667.2 123.9L666.5 124.2L666.0 124.6L665.5 125.0L665.0 125.4L664.6 125.8L664.3 126.2L664.1 126.6L663.9 127.0L663.7 127.4L663.7 127.8L663.7 128.2L663.8 128.6L664.0 129.0L664.2 129.4L664.5 129.8L664.9 130.1L665.3 130.5L665.8 130.9L666.4 131.3L666.9 131.7L667.6 132.1L668.3 132.5L669.0 132.9L669.7 133.3L670.5 133.7L671.3 134.1L672.1 134.5L672.9 134.9L673.7 135.2L674.5 135.6L675.2 136.0L676.0 136.4L676.7 136.8L677.4 137.2L678.0 137.6L678.7 138.0L679.2 138.4L679.7 138.8L680.2 139.2L680.6 139.6L680.9 140.0L681.1 140.4L681.3 140.8L681.5 141.1L681.5 141.5L681.5 141.9L681.4 142.3L681.2 142.7L681.0 143.1L680.7 143.5L680.3 143.9L679.9 144.3L679.4 144.7L678.8 145.1L678.3 145.5L677.6 145.9L676.9 146.2L676.2 146.6L675.5 147.0L674.7 147.4L673.9 147.8L673.1 148.2L672.3 148.6L671.5 149.0L670.7 149.4L670.0 149.8L669.2 150.2L668.5 150.6L667.8 151.0L667.2 151.4L666.5 151.8L666.0 152.1L665.5 152.5L665.0 152.9L664.6 153.3L664.3 153.7L664.1 154.1L663.9 154.5L663.7 154.9L663.7 155.3L663.7 155.7L663.8 156.1L664.0 156.5L664.2 156.9L664.5 157.2L664.9 157.6L665.3 158.0L665.8 158.4L666.4 158.8L666.9 159.2L667.6 159.6L668.3 160.0L669.0 160.4L669.7 160.8L670.5 161.2L671.3 161.6L672.1 162.0L672.9 162.4L673.7 162.8L674.5 163.1L675.2 163.5L676.0 163.9L676.7 164.3L677.4 164.7L678.0 165.1L678.7 165.5L679.2 165.9L679.7 166.3L680.2 166.7L680.6 167.1L680.9 167.5L681.1 167.9L681.3 168.2L681.5 168.6L681.5 169.0L681.5 169.4L681.4 169.8L681.2 170.2L681.0 170.6L680.7 171.0L680.3 171.4L679.9 171.8L679.4 172.2L678.8 172.6L678.3 173.0L677.6 173.4L676.9 173.8L676.2 174.1L675.5 174.5L674.7 174.9L673.9 175.3L673.1 175.7L672.3 176.1L671.5 176.5" stroke="#e2475b" stroke-width="1.3" fill="none" stroke-linejoin="round" stroke-linecap="round"/></g>
<clipPath id="hx2"><path d="M694.6 166.0L695.4 166.4L696.1 166.8L696.9 167.2L697.6 167.6L698.3 167.9L698.9 168.3L699.6 168.7L700.1 169.1L700.6 169.5L701.1 169.9L701.5 170.3L701.8 170.7L702.0 171.1L702.2 171.4L702.4 171.8L702.4 172.2L702.4 172.6L702.3 173.0L702.1 173.4L701.9 173.8L701.6 174.2L701.2 174.6L700.8 175.0L700.3 175.3L699.7 175.7L699.2 176.1L698.5 176.5L697.8 176.9L697.1 177.3L696.4 177.7L695.6 178.1L694.8 178.5L694.0 178.8L693.2 179.2L692.4 179.6L691.6 180.0L690.9 180.4L690.1 180.8L689.4 181.2L688.7 181.6L688.1 182.0L687.4 182.3L686.9 182.7L686.4 183.1L685.9 183.5L685.5 183.9L685.2 184.3L685.0 184.7L684.8 185.1L684.6 185.5L684.6 185.9L684.6 186.2L684.7 186.6L684.9 187.0L685.1 187.4L685.4 187.8L685.8 188.2L686.2 188.6L686.7 189.0L687.3 189.4L687.8 189.7L688.5 190.1L689.2 190.5L689.9 190.9L690.6 191.3L691.4 191.7L692.2 192.1L693.0 192.5L693.8 192.9L694.6 193.2L695.4 193.6L696.1 194.0L696.9 194.4L697.6 194.8L698.3 195.2L698.9 195.6L699.6 196.0L700.1 196.4L700.6 196.8L701.1 197.1L701.5 197.5L701.8 197.9L702.0 198.3L702.2 198.7L702.4 199.1L702.4 199.5L702.4 199.9L702.3 200.3L702.1 200.6L701.9 201.0L701.6 201.4L701.2 201.8L700.8 202.2L700.3 202.6L699.7 203.0L699.2 203.4L698.5 203.8L697.8 204.2L697.1 204.5L696.4 204.9L695.6 205.3L694.8 205.7L694.0 206.1L693.2 206.5L692.4 206.9L691.6 207.3L690.9 207.7L690.1 208.0L689.4 208.4L688.7 208.8L688.1 209.2L687.4 209.6L686.9 210.0L686.4 210.4L685.9 210.8L685.5 211.2L685.2 211.5L685.0 211.9L684.8 212.3L684.6 212.7L684.6 213.1L684.6 213.5L684.7 213.9L684.9 214.3L685.1 214.7L685.4 215.1L685.8 215.4L686.2 215.8L686.7 216.2L687.3 216.6L687.8 217.0L688.5 217.4L689.2 217.8L689.9 218.2L690.6 218.6L691.4 218.9L692.2 219.3L693.0 219.7L693.8 220.1L694.6 220.5L692.4 220.5L693.2 220.1L694.0 219.7L694.8 219.3L695.6 218.9L696.4 218.6L697.1 218.2L697.8 217.8L698.5 217.4L699.2 217.0L699.7 216.6L700.3 216.2L700.8 215.8L701.2 215.4L701.6 215.1L701.9 214.7L702.1 214.3L702.3 213.9L702.4 213.5L702.4 213.1L702.4 212.7L702.2 212.3L702.0 211.9L701.8 211.5L701.5 211.2L701.1 210.8L700.6 210.4L700.1 210.0L699.6 209.6L698.9 209.2L698.3 208.8L697.6 208.4L696.9 208.0L696.1 207.7L695.4 207.3L694.6 206.9L693.8 206.5L693.0 206.1L692.2 205.7L691.4 205.3L690.6 204.9L689.9 204.5L689.2 204.2L688.5 203.8L687.8 203.4L687.3 203.0L686.7 202.6L686.2 202.2L685.8 201.8L685.4 201.4L685.1 201.0L684.9 200.6L684.7 200.3L684.6 199.9L684.6 199.5L684.6 199.1L684.8 198.7L685.0 198.3L685.2 197.9L685.5 197.5L685.9 197.1L686.4 196.8L686.9 196.4L687.4 196.0L688.1 195.6L688.7 195.2L689.4 194.8L690.1 194.4L690.9 194.0L691.6 193.6L692.4 193.2L693.2 192.9L694.0 192.5L694.8 192.1L695.6 191.7L696.4 191.3L697.1 190.9L697.8 190.5L698.5 190.1L699.2 189.7L699.7 189.4L700.3 189.0L700.8 188.6L701.2 188.2L701.6 187.8L701.9 187.4L702.1 187.0L702.3 186.6L702.4 186.2L702.4 185.9L702.4 185.5L702.2 185.1L702.0 184.7L701.8 184.3L701.5 183.9L701.1 183.5L700.6 183.1L700.1 182.7L699.6 182.3L698.9 182.0L698.3 181.6L697.6 181.2L696.9 180.8L696.1 180.4L695.4 180.0L694.6 179.6L693.8 179.2L693.0 178.8L692.2 178.5L691.4 178.1L690.6 177.7L689.9 177.3L689.2 176.9L688.5 176.5L687.8 176.1L687.3 175.7L686.7 175.3L686.2 175.0L685.8 174.6L685.4 174.2L685.1 173.8L684.9 173.4L684.7 173.0L684.6 172.6L684.6 172.2L684.6 171.8L684.8 171.4L685.0 171.1L685.2 170.7L685.5 170.3L685.9 169.9L686.4 169.5L686.9 169.1L687.4 168.7L688.1 168.3L688.7 167.9L689.4 167.6L690.1 167.2L690.9 166.8L691.6 166.4L692.4 166.0Z" clip-rule="evenodd"/></clipPath><g transform="translate(693.5 193.25) skewY(16) translate(-693.5 -193.25)"><path d="M683.6 159.6L703.4 136.8M683.6 164.5L703.4 141.7M683.6 169.4L703.4 146.6M683.6 174.3L703.4 151.5M683.6 179.2L703.4 156.4M683.6 184.1L703.4 161.3M683.6 189.0L703.4 166.2M683.6 193.9L703.4 171.1M683.6 198.8L703.4 176.0M683.6 203.7L703.4 180.9M683.6 208.6L703.4 185.8M683.6 213.5L703.4 190.7M683.6 218.4L703.4 195.6M683.6 223.3L703.4 200.5M683.6 228.2L703.4 205.4M683.6 233.1L703.4 210.3M683.6 238.0L703.4 215.2M683.6 242.9L703.4 220.1M683.6 247.8L703.4 225.0" stroke="#e2475b" stroke-width="1.15" fill="none" clip-path="url(#hx2)"/><path d="M694.6 166.0L695.4 166.4L696.1 166.8L696.9 167.2L697.6 167.6L698.3 167.9L698.9 168.3L699.6 168.7L700.1 169.1L700.6 169.5L701.1 169.9L701.5 170.3L701.8 170.7L702.0 171.1L702.2 171.4L702.4 171.8L702.4 172.2L702.4 172.6L702.3 173.0L702.1 173.4L701.9 173.8L701.6 174.2L701.2 174.6L700.8 175.0L700.3 175.3L699.7 175.7L699.2 176.1L698.5 176.5L697.8 176.9L697.1 177.3L696.4 177.7L695.6 178.1L694.8 178.5L694.0 178.8L693.2 179.2L692.4 179.6L691.6 180.0L690.9 180.4L690.1 180.8L689.4 181.2L688.7 181.6L688.1 182.0L687.4 182.3L686.9 182.7L686.4 183.1L685.9 183.5L685.5 183.9L685.2 184.3L685.0 184.7L684.8 185.1L684.6 185.5L684.6 185.9L684.6 186.2L684.7 186.6L684.9 187.0L685.1 187.4L685.4 187.8L685.8 188.2L686.2 188.6L686.7 189.0L687.3 189.4L687.8 189.7L688.5 190.1L689.2 190.5L689.9 190.9L690.6 191.3L691.4 191.7L692.2 192.1L693.0 192.5L693.8 192.9L694.6 193.2L695.4 193.6L696.1 194.0L696.9 194.4L697.6 194.8L698.3 195.2L698.9 195.6L699.6 196.0L700.1 196.4L700.6 196.8L701.1 197.1L701.5 197.5L701.8 197.9L702.0 198.3L702.2 198.7L702.4 199.1L702.4 199.5L702.4 199.9L702.3 200.3L702.1 200.6L701.9 201.0L701.6 201.4L701.2 201.8L700.8 202.2L700.3 202.6L699.7 203.0L699.2 203.4L698.5 203.8L697.8 204.2L697.1 204.5L696.4 204.9L695.6 205.3L694.8 205.7L694.0 206.1L693.2 206.5L692.4 206.9L691.6 207.3L690.9 207.7L690.1 208.0L689.4 208.4L688.7 208.8L688.1 209.2L687.4 209.6L686.9 210.0L686.4 210.4L685.9 210.8L685.5 211.2L685.2 211.5L685.0 211.9L684.8 212.3L684.6 212.7L684.6 213.1L684.6 213.5L684.7 213.9L684.9 214.3L685.1 214.7L685.4 215.1L685.8 215.4L686.2 215.8L686.7 216.2L687.3 216.6L687.8 217.0L688.5 217.4L689.2 217.8L689.9 218.2L690.6 218.6L691.4 218.9L692.2 219.3L693.0 219.7L693.8 220.1L694.6 220.5" stroke="#e2475b" stroke-width="1.3" fill="none" stroke-linejoin="round" stroke-linecap="round"/><path d="M692.4 166.0L691.6 166.4L690.9 166.8L690.1 167.2L689.4 167.6L688.7 167.9L688.1 168.3L687.4 168.7L686.9 169.1L686.4 169.5L685.9 169.9L685.5 170.3L685.2 170.7L685.0 171.1L684.8 171.4L684.6 171.8L684.6 172.2L684.6 172.6L684.7 173.0L684.9 173.4L685.1 173.8L685.4 174.2L685.8 174.6L686.2 175.0L686.7 175.3L687.3 175.7L687.8 176.1L688.5 176.5L689.2 176.9L689.9 177.3L690.6 177.7L691.4 178.1L692.2 178.5L693.0 178.8L693.8 179.2L694.6 179.6L695.4 180.0L696.1 180.4L696.9 180.8L697.6 181.2L698.3 181.6L698.9 182.0L699.6 182.3L700.1 182.7L700.6 183.1L701.1 183.5L701.5 183.9L701.8 184.3L702.0 184.7L702.2 185.1L702.4 185.5L702.4 185.9L702.4 186.2L702.3 186.6L702.1 187.0L701.9 187.4L701.6 187.8L701.2 188.2L700.8 188.6L700.3 189.0L699.7 189.4L699.2 189.7L698.5 190.1L697.8 190.5L697.1 190.9L696.4 191.3L695.6 191.7L694.8 192.1L694.0 192.5L693.2 192.9L692.4 193.2L691.6 193.6L690.9 194.0L690.1 194.4L689.4 194.8L688.7 195.2L688.1 195.6L687.4 196.0L686.9 196.4L686.4 196.8L685.9 197.1L685.5 197.5L685.2 197.9L685.0 198.3L684.8 198.7L684.6 199.1L684.6 199.5L684.6 199.9L684.7 200.3L684.9 200.6L685.1 201.0L685.4 201.4L685.8 201.8L686.2 202.2L686.7 202.6L687.3 203.0L687.8 203.4L688.5 203.8L689.2 204.2L689.9 204.5L690.6 204.9L691.4 205.3L692.2 205.7L693.0 206.1L693.8 206.5L694.6 206.9L695.4 207.3L696.1 207.7L696.9 208.0L697.6 208.4L698.3 208.8L698.9 209.2L699.6 209.6L700.1 210.0L700.6 210.4L701.1 210.8L701.5 211.2L701.8 211.5L702.0 211.9L702.2 212.3L702.4 212.7L702.4 213.1L702.4 213.5L702.3 213.9L702.1 214.3L701.9 214.7L701.6 215.1L701.2 215.4L700.8 215.8L700.3 216.2L699.7 216.6L699.2 217.0L698.5 217.4L697.8 217.8L697.1 218.2L696.4 218.6L695.6 218.9L694.8 219.3L694.0 219.7L693.2 220.1L692.4 220.5" stroke="#e2475b" stroke-width="1.3" fill="none" stroke-linejoin="round" stroke-linecap="round"/></g>
<text x="8.9" y="363.4" font-size="19.6" class="hm" textLength="16.4" lengthAdjust="spacingAndGlyphs">e)</text>
<defs><filter id="sh" x="-5%" y="-5%" width="110%" height="115%"><feGaussianBlur stdDeviation="2.4"/></filter></defs>
<rect x="2.3" y="394.5" width="381.0" height="139.0" fill="#000" fill-opacity="0.2" filter="url(#sh)"/>
<rect x="1.3" y="391.5" width="381.0" height="138.0" fill="#fff" stroke="#4a4a4a" stroke-width="0.9"/>
<text x="66.8" y="404.2" font-size="14.8" textLength="258.2" lengthAdjust="spacingAndGlyphs">RNAi Target Genes for <tspan class="i">Ips typographus</tspan></text>
<text x="40.2" y="422.4" font-size="6.6" textLength="310.6" lengthAdjust="spacingAndGlyphs">You can select up to 3 targets for dsRNA designing by clicking on the genes or download detailed results.</text>
<rect x="1.7000000000000002" y="457.5" width="380.2" height="18" fill="#ffd20f"/>
<path d="M1.3 438.4H382.3" stroke="#dcdcdc" stroke-width="0.8"/>
<path d="M1.3 457.5H382.3M1.3 475.6H382.3M1.3 493.6H382.3M1.3 511.6H382.3" stroke="#a0a0a0" stroke-width="1.1"/>
<path d="M56.5 438.4V529.5M118.7 438.4V529.5M318.6 438.4V529.5" stroke="#3c3c3c" stroke-width="0.9"/>
<text x="4.7" y="450.1" font-size="5.8" class="b" textLength="36.3" lengthAdjust="spacingAndGlyphs">Pest Gene ID</text>
<text x="61.7" y="450.1" font-size="5.8" class="b" textLength="50.5" lengthAdjust="spacingAndGlyphs">Tribolium Gene ID</text>
<text x="123.3" y="450.1" font-size="5.8" class="b" textLength="31.5" lengthAdjust="spacingAndGlyphs">Annotation</text>
<text x="323.2" y="450.1" font-size="5.8" class="b" textLength="56.5" lengthAdjust="spacingAndGlyphs">Number of transfers</text>
<text x="4.7" y="468.6" font-size="5.8" textLength="45.3" lengthAdjust="spacingAndGlyphs" stroke="#111" stroke-width="0.15">Ityp01729-mRNA</text>
<text x="61.7" y="468.6" font-size="5.8" textLength="26.6" lengthAdjust="spacingAndGlyphs" stroke="#111" stroke-width="0.15">TC006375</text>
<text x="123.3" y="468.6" font-size="5.8" textLength="162.8" lengthAdjust="spacingAndGlyphs" stroke="#111" stroke-width="0.15">26S proteasome non-ATPase regulatory subunit 6-like Protein</text>
<text x="323.2" y="468.6" font-size="5.8" textLength="2.8" lengthAdjust="spacingAndGlyphs" stroke="#111" stroke-width="0.15">5</text>
<text x="4.7" y="486.6" font-size="5.8" textLength="45.3" lengthAdjust="spacingAndGlyphs" stroke="#111" stroke-width="0.15">Ityp07907-mRNA</text>
<text x="61.7" y="486.6" font-size="5.8" textLength="26.6" lengthAdjust="spacingAndGlyphs" stroke="#111" stroke-width="0.15">TC011120</text>
<text x="123.3" y="486.6" font-size="5.8" textLength="34.4" lengthAdjust="spacingAndGlyphs" stroke="#111" stroke-width="0.15">Ras opposite</text>
<text x="323.2" y="486.6" font-size="5.8" textLength="2.8" lengthAdjust="spacingAndGlyphs" stroke="#111" stroke-width="0.15">4</text>
<text x="4.7" y="504.7" font-size="5.8" textLength="45.3" lengthAdjust="spacingAndGlyphs" stroke="#111" stroke-width="0.15">Ityp17161-mRNA</text>
<text x="61.7" y="504.7" font-size="5.8" textLength="26.6" lengthAdjust="spacingAndGlyphs" stroke="#111" stroke-width="0.15">TC005185</text>
<text x="123.3" y="504.7" font-size="5.8" textLength="109.2" lengthAdjust="spacingAndGlyphs" stroke="#111" stroke-width="0.15">Polyadenylate-binding protein-like Protein</text>
<text x="323.2" y="504.7" font-size="5.8" textLength="2.8" lengthAdjust="spacingAndGlyphs" stroke="#111" stroke-width="0.15">4</text>
<text x="4.7" y="522.7" font-size="5.8" textLength="45.3" lengthAdjust="spacingAndGlyphs" stroke="#111" stroke-width="0.15">Ityp00775-mRNA</text>
<text x="61.7" y="522.7" font-size="5.8" textLength="26.6" lengthAdjust="spacingAndGlyphs" stroke="#111" stroke-width="0.15">TC008617</text>
<text x="123.3" y="522.7" font-size="5.8" textLength="115.2" lengthAdjust="spacingAndGlyphs" stroke="#111" stroke-width="0.15">Proteasome subunit beta type-4-like Protein</text>
<text x="323.2" y="522.7" font-size="5.8" textLength="2.8" lengthAdjust="spacingAndGlyphs" stroke="#111" stroke-width="0.15">4</text>
<text x="395.9" y="363.3" font-size="19.6" class="hm" textLength="12.3" lengthAdjust="spacingAndGlyphs">f)</text>
<rect x="406.7" y="372.4" width="365.7" height="181.0" fill="#fff"/>
<rect x="645.2" y="372.4" width="75.6" height="181.0" fill="#ffffb0"/>
<path d="M423.4 434.3L423.7 436.6L424.0 436.0L424.3 432.5L424.6 422.3L424.8 439.0L425.1 452.5L425.4 462.8L425.7 450.3L426.0 435.8L426.3 433.9L426.6 447.0L426.9 438.5L427.2 448.8L427.5 459.0L427.7 469.3L428.0 426.6L428.3 441.5L428.6 456.4L428.9 457.5L429.2 463.9L429.5 472.8L429.8 484.4L430.1 471.2L430.4 457.4L430.6 449.6L430.9 446.9L431.2 444.3L431.5 453.3L431.8 462.4L432.1 457.2L432.4 451.9L432.7 446.7L433.0 441.7L433.2 436.7L433.5 431.7L433.8 428.1L434.1 424.5L434.4 420.9L434.7 438.4L435.0 455.9L435.3 425.8L435.6 427.3L435.9 428.9L436.1 430.4L436.4 432.6L436.7 434.7L437.0 436.9L437.3 428.2L437.6 415.6L437.9 399.1L438.2 415.3L438.5 427.2L438.7 434.6L439.0 442.0L439.3 449.4L439.6 440.3L439.9 431.3L440.2 434.2L440.5 437.0L440.8 439.8L441.1 443.9L441.4 462.8L441.6 478.7L441.9 492.6L442.2 480.6L442.5 463.3L442.8 440.6L443.1 429.6L443.4 416.6L443.7 401.8L444.0 416.4L444.3 430.8L444.5 439.3L444.8 433.2L445.1 430.5L445.4 427.8L445.7 422.3L446.0 416.7L446.3 422.8L446.6 428.9L446.9 435.0L447.1 434.5L447.4 434.0L447.7 433.5L448.0 452.5L448.3 471.4L448.6 465.2L448.9 459.0L449.2 452.8L449.5 438.9L449.8 425.1L450.0 419.3L450.3 447.4L450.6 475.5L450.9 465.1L451.2 454.6L451.5 444.2L451.8 444.9L452.1 445.6L452.4 446.2L452.6 459.8L452.9 473.3L453.2 478.5L453.5 483.1L453.8 466.1L454.1 448.5L454.4 462.1L454.7 475.7L455.0 426.3L455.3 433.2L455.5 440.0L455.8 446.9L456.1 453.0L456.4 446.8L456.7 440.6L457.0 441.5L457.3 442.4L457.6 450.2L457.9 458.1L458.2 432.5L458.4 429.4L458.7 426.3L459.0 426.6L459.3 426.9L459.6 449.3L459.9 471.8L460.2 466.1L460.5 460.5L460.8 454.9L461.0 443.9L461.3 455.6L461.6 478.4L461.9 500.7L462.2 478.4L462.5 455.3L462.8 434.7L463.1 436.9L463.4 439.1L463.7 433.3L463.9 427.5L464.2 421.7L464.5 431.5L464.8 441.2L465.1 440.4L465.4 439.6L465.7 445.1L466.0 450.5L466.3 456.0L466.6 440.5L466.8 437.2L467.1 448.2L467.4 461.4L467.7 445.9L468.0 443.3L468.3 453.7L468.6 473.2L468.9 462.9L469.2 452.6L469.4 442.3L469.7 448.1L470.0 453.9L470.3 459.8L470.6 458.0L470.9 456.2L471.2 454.4L471.5 430.4L471.8 437.8L472.1 445.1L472.3 445.6L472.6 447.2L472.9 448.7L473.2 445.2L473.5 441.7L473.8 438.1L474.1 423.6L474.4 425.1L474.7 426.5L474.9 428.0L475.2 419.0L475.5 448.5L475.8 448.4L476.1 448.3L476.4 447.9L476.7 447.4L477.0 451.9L477.3 456.5L477.6 452.6L477.8 437.4L478.1 422.2L478.4 432.0L478.7 441.9L479.0 438.1L479.3 434.4L479.6 435.7L479.9 437.1L480.2 439.4L480.5 441.7L480.7 444.1L481.0 426.7L481.3 409.4L481.6 406.3L481.9 404.6L482.2 404.6L482.5 411.7L482.8 423.4L483.1 435.1L483.3 431.7L483.6 428.3L483.9 424.2L484.2 432.3L484.5 440.3L484.8 448.3L485.1 417.9L485.4 421.8L485.7 425.7L486.0 429.6L486.2 443.8L486.5 458.0L486.8 448.1L487.1 438.2L487.4 446.1L487.7 453.9L488.0 461.8L488.3 459.1L488.6 456.4L488.8 457.6L489.1 458.7L489.4 444.1L489.7 429.5L490.0 448.0L490.3 466.4L490.6 461.6L490.9 456.9L491.2 442.9L491.5 436.3L491.7 448.0L492.0 459.6L492.3 457.6L492.6 455.5L492.9 453.4L493.2 452.5L493.5 451.6L493.8 450.6L494.1 438.1L494.4 425.6L494.6 435.6L494.9 445.6L495.2 439.5L495.5 434.8L495.8 430.0L496.1 448.5L496.4 467.0L496.7 466.7L497.0 447.3L497.2 428.0L497.5 422.7L497.8 412.6L498.1 397.8L498.4 410.8L498.7 427.7L499.0 448.5L499.3 446.0L499.6 443.6L499.9 441.1L500.1 450.7L500.4 460.4L500.7 448.9L501.0 437.4L501.3 443.6L501.6 449.7L501.9 455.9L502.2 462.1L502.5 468.3L502.8 434.7L503.0 427.2L503.3 419.7L503.6 412.2L503.9 404.6L504.2 426.6L504.5 457.0L504.8 455.1L505.1 453.2L505.4 451.3L505.6 454.9L505.9 458.5L506.2 457.2L506.5 455.8L506.8 447.9L507.1 439.9L507.4 432.0L507.7 436.3L508.0 440.6L508.3 444.9L508.5 428.0L508.8 411.1L509.1 419.7L509.4 428.4L509.7 437.0L510.0 430.9L510.3 424.8L510.6 418.6L510.9 421.4L511.1 424.2L511.4 427.1L511.7 430.0L512.0 436.0L512.3 442.0L512.6 441.3L512.9 434.1L513.2 427.0L513.5 454.6L513.8 476.9L514.0 493.9L514.3 474.8L514.6 446.1L514.9 427.8L515.2 438.7L515.5 449.6L515.8 457.3L516.1 465.1L516.4 472.9L516.7 466.1L516.9 459.4L517.2 451.1L517.5 442.8L517.8 434.5L518.1 434.3L518.4 434.2L518.7 434.0L519.0 420.7L519.3 434.5L519.5 448.3L519.8 462.1L520.1 439.5L520.4 445.1L520.7 450.6L521.0 449.0L521.3 447.4L521.6 446.9L521.9 448.3L522.2 449.7L522.4 454.9L522.7 460.1L523.0 436.8L523.3 440.9L523.6 445.0L523.9 439.3L524.2 452.0L524.5 471.1L524.8 488.5L525.0 468.3L525.3 440.8L525.6 405.8L525.9 434.9L526.2 448.4L526.5 462.0L526.8 441.5L527.1 421.0L527.4 404.6L527.7 412.7L527.9 424.8L528.2 436.8L528.5 433.9L528.8 431.1L529.1 428.2L529.4 430.1L529.7 432.1L530.0 434.0L530.3 447.0L530.6 441.0L530.8 423.8L531.1 403.2L531.4 427.2L531.7 441.5L532.0 446.1L532.3 441.5L532.6 436.9L532.9 432.2L533.2 440.2L533.4 448.2L533.7 452.0L534.0 455.7L534.3 444.2L534.6 432.7L534.9 449.6L535.2 453.2L535.5 456.9L535.8 452.5L536.1 448.2L536.3 443.9L536.6 438.4L536.9 432.9L537.2 439.0L537.5 445.1L537.8 427.5L538.1 404.3L538.4 380.2L538.7 400.7L539.0 413.0L539.2 443.5L539.5 438.5L539.8 433.5L540.1 428.4L540.4 420.1L540.7 408.6L541.0 419.0L541.3 423.9L541.6 429.7L541.8 427.8L542.1 425.8L542.4 436.4L542.7 447.0L543.0 439.3L543.3 431.6L543.6 441.7L543.9 442.6L544.2 443.5L544.5 444.4L544.7 444.3L545.0 444.1L545.3 442.0L545.6 439.9L545.9 445.1L546.2 450.3L546.5 455.5L546.8 455.3L547.1 411.4L547.3 443.9L547.6 441.6L547.9 438.9L548.2 436.3L548.5 438.1L548.8 440.0L549.1 450.8L549.4 461.6L549.7 472.4L550.0 465.5L550.2 458.5L550.5 448.8L550.8 439.1L551.1 429.4L551.4 453.2L551.7 471.1L552.0 483.1L552.3 471.5L552.6 454.8L552.9 437.8L553.1 451.4L553.4 435.1L553.7 418.9L554.0 434.5L554.3 450.2L554.6 450.4L554.9 449.5L555.2 448.7L555.5 455.9L555.7 449.5L556.0 443.1L556.3 436.7L556.6 432.9L556.9 429.1L557.2 438.1L557.5 447.0L557.8 453.4L558.1 443.2L558.4 442.6L558.6 441.9L558.9 436.2L559.2 430.4L559.5 437.2L559.8 444.0L560.1 450.8L560.4 432.5L560.7 414.2L561.0 433.0L561.2 451.7L561.5 446.4L561.8 441.1L562.1 436.5L562.4 441.3L562.7 456.8L563.0 472.3L563.3 483.1L563.6 472.8L563.9 457.8L564.1 442.8L564.4 441.7L564.7 440.6L565.0 434.6L565.3 428.7L565.6 422.7L565.9 434.8L566.2 447.0L566.5 459.1L566.8 446.0L567.0 432.9L567.3 437.1L567.6 441.2L567.9 445.3L568.2 437.7L568.5 430.1L568.8 430.1L569.1 430.0L569.4 422.7L569.6 415.3L569.9 407.9L570.2 408.1L570.5 408.3L570.8 408.5L571.1 404.6L571.4 409.7L571.7 417.5L572.0 428.2L572.3 439.0L572.5 438.2L572.8 437.4L573.1 436.2L573.4 435.0L573.7 439.3L574.0 443.5L574.3 447.7L574.6 450.5L574.9 453.2L575.2 450.8L575.4 448.5L575.7 446.1L576.0 434.6L576.3 423.0L576.6 438.3L576.9 453.6L577.2 460.5L577.5 473.0L577.8 491.2L578.0 474.5L578.3 459.1L578.6 440.1L578.9 437.1L579.2 439.3L579.5 441.6L579.8 441.0L580.1 440.5L580.4 460.9L580.7 449.4L580.9 437.9L581.2 440.4L581.5 442.8L581.8 442.0L582.1 441.2L582.4 427.2L582.7 425.3L583.0 423.4L583.3 448.4L583.5 418.4L583.8 415.3L584.1 412.2L584.4 409.1L584.7 429.5L585.0 434.7L585.3 416.1L585.6 404.6L585.9 409.0L586.2 422.7L586.4 445.7L586.7 459.6L587.0 449.1L587.3 438.7L587.6 453.4L587.9 468.0L588.2 457.1L588.5 446.1L588.8 432.1L589.1 418.1L589.3 429.0L589.6 441.0L589.9 453.0L590.2 465.0L590.5 465.0L590.8 464.9L591.1 464.8L591.4 453.2L591.7 441.5L591.9 429.8L592.2 423.5L592.5 417.2L592.8 430.2L593.1 443.3L593.4 456.3L593.7 430.8L594.0 440.8L594.3 450.9L594.6 461.0L594.8 446.6L595.1 432.2L595.4 417.7L595.7 447.7L596.0 417.8L596.3 434.8L596.6 432.4L596.9 430.0L597.2 439.9L597.4 449.8L597.7 459.7L598.0 459.0L598.3 459.2L598.6 459.3L598.9 435.1L599.2 410.9L599.5 420.7L599.8 430.6L600.1 440.5L600.3 438.7L600.6 436.9L600.9 435.2L601.2 438.6L601.5 442.1L601.8 445.6L602.1 441.6L602.4 460.3L602.7 449.3L603.0 438.4L603.2 425.6L603.5 412.8L603.8 425.9L604.1 439.0L604.4 452.2L604.7 454.2L605.0 456.3L605.3 466.6L605.6 437.7L605.8 441.4L606.1 445.0L606.4 448.7L606.7 448.9L607.0 449.2L607.3 449.4L607.6 451.3L607.9 453.2L608.2 430.0L608.5 414.2L608.7 405.9L609.0 415.2L609.3 433.7L609.6 447.5L609.9 447.4L610.2 483.1L610.5 437.1L610.8 437.1L611.1 437.1L611.4 437.2L611.6 432.1L611.9 427.0L612.2 421.9L612.5 429.7L612.8 437.5L613.1 445.3L613.4 422.6L613.7 423.9L614.0 425.2L614.2 426.4L614.5 411.6L614.8 404.6L615.1 442.8L615.4 440.0L615.7 437.3L616.0 434.6L616.3 429.5L616.6 424.4L616.9 433.1L617.1 441.7L617.4 449.3L617.7 448.1L618.0 446.9L618.3 445.7L618.6 439.1L618.9 432.5L619.2 436.2L619.5 440.0L619.7 443.7L620.0 443.4L620.3 443.0L620.6 442.6L620.9 437.8L621.2 433.0L621.5 454.3L621.8 475.7L622.1 458.2L622.4 440.6L622.6 418.7L622.9 414.6L623.2 410.4L623.5 406.3L623.8 435.0L624.1 463.7L624.4 444.8L624.7 425.8L625.0 436.5L625.3 447.2L625.5 441.1L625.8 435.1L626.1 448.0L626.4 437.7L626.7 427.4L627.0 430.7L627.3 445.2L627.6 445.2L627.9 445.2L628.1 445.2L628.4 435.2L628.7 425.3L629.0 421.9L629.3 410.7L629.6 406.7L629.9 395.1L630.2 410.3L630.5 425.0L630.8 457.1L631.0 474.3L631.3 417.5L631.6 422.7L631.9 427.9L632.2 433.2L632.5 437.1L632.8 441.1L633.1 436.6L633.4 432.2L633.6 427.8L633.9 431.4L634.2 435.1L634.5 430.5L634.8 425.9L635.1 432.0L635.4 442.4L635.7 452.8L636.0 463.2L636.3 455.2L636.5 447.1L636.8 439.1L637.1 437.6L637.4 436.0L637.7 434.5L638.0 451.3L638.3 468.1L638.6 456.2L638.9 444.4L639.2 432.5L639.4 455.4L639.7 478.3L640.0 464.7L640.3 451.2L640.6 437.7L640.9 435.2L641.2 432.7L641.5 429.2L641.8 425.7L642.0 433.9L642.3 442.1L642.6 432.5L642.9 423.0L643.2 413.4L643.5 432.4L643.8 451.5L644.1 442.8L644.4 434.2L644.7 437.9L644.9 441.6L645.2 445.3L645.5 446.4L645.8 447.5L646.1 448.6L646.4 436.0L646.7 423.3L647.0 427.7L647.3 432.0L647.6 432.8L647.8 433.5L648.1 434.2L648.4 419.6L648.7 404.9L649.0 419.5L649.3 434.0L649.6 432.6L649.9 438.9L650.2 445.1L650.4 440.0L650.7 434.9L651.0 438.6L651.3 442.3L651.6 419.2L651.9 422.7L652.2 426.2L652.5 429.7L652.8 437.5L653.1 445.3L653.3 453.2L653.6 448.0L653.9 442.9L654.2 437.8L654.5 428.1L654.8 438.4L655.1 448.7L655.4 423.1L655.7 433.4L655.9 467.4L656.2 491.2L656.5 482.4L656.8 465.9L657.1 441.6L657.4 442.8L657.7 435.6L658.0 428.4L658.3 445.8L658.6 463.3L658.8 480.7L659.1 427.1L659.4 421.1L659.7 415.0L660.0 425.4L660.3 435.8L660.6 439.7L660.9 443.7L661.2 447.7L661.5 445.4L661.7 443.0L662.0 440.7L662.3 434.6L662.6 417.4L662.9 411.2L663.2 395.1L663.5 406.5L663.8 416.8L664.1 425.9L664.3 424.1L664.6 415.8L664.9 427.5L665.2 439.2L665.5 450.8L665.8 433.4L666.1 438.7L666.4 465.0L666.7 484.4L667.0 468.6L667.2 445.3L667.5 414.5L667.8 404.6L668.1 416.9L668.4 430.5L668.7 444.0L669.0 438.4L669.3 432.8L669.6 441.3L669.8 449.8L670.1 458.3L670.4 460.9L670.7 422.5L671.0 425.7L671.3 429.0L671.6 432.3L671.9 441.3L672.2 450.3L672.5 444.6L672.7 439.0L673.0 433.3L673.3 426.8L673.6 433.5L673.9 440.2L674.2 428.9L674.5 417.6L674.8 432.4L675.1 447.3L675.4 454.7L675.6 462.1L675.9 444.6L676.2 444.9L676.5 445.2L676.8 455.0L677.1 460.7L677.4 466.5L677.7 453.6L678.0 440.8L678.2 442.3L678.5 429.1L678.8 416.0L679.1 441.6L679.4 467.2L679.7 458.1L680.0 449.0L680.3 440.0L680.6 446.0L680.9 452.1L681.1 428.2L681.4 435.3L681.7 442.5L682.0 451.8L682.3 461.1L682.6 443.9L682.9 426.7L683.2 435.3L683.5 428.1L683.8 413.9L684.0 396.4L684.3 413.0L684.6 424.3L684.9 422.2L685.2 434.6L685.5 447.0L685.8 462.6L686.1 478.1L686.4 437.6L686.6 435.4L686.9 433.1L687.2 430.9L687.5 429.2L687.8 427.6L688.1 431.9L688.4 442.6L688.7 436.9L689.0 431.1L689.3 425.4L689.5 428.5L689.8 431.7L690.1 434.9L690.4 441.2L690.7 447.5L691.0 473.4L691.3 483.1L691.6 465.8L691.9 432.1L692.1 427.5L692.4 422.8L692.7 418.2L693.0 430.6L693.3 443.0L693.6 455.4L693.9 449.7L694.2 443.9L694.5 438.2L694.8 426.6L695.0 415.1L695.3 448.9L695.6 482.7L695.9 459.2L696.2 435.8L696.5 436.8L696.8 454.4L697.1 472.0L697.4 456.0L697.7 440.1L697.9 424.2L698.2 443.2L698.5 462.2L698.8 441.8L699.1 421.3L699.4 419.9L699.7 418.6L700.0 422.9L700.3 427.2L700.5 443.1L700.8 464.2L701.1 467.4L701.4 475.0L701.7 464.7L702.0 453.4L702.3 448.5L702.6 454.4L702.9 460.2L703.2 450.5L703.4 440.8L703.7 429.1L704.0 417.4L704.3 454.5L704.6 427.8L704.9 433.4L705.2 439.0L705.5 437.8L705.8 436.6L706.0 435.4L706.3 443.2L706.6 451.1L706.9 443.9L707.2 436.7L707.5 429.5L707.8 443.2L708.1 428.7L708.4 414.3L708.7 431.7L708.9 449.0L709.2 437.8L709.5 426.5L709.8 415.2L710.1 421.9L710.4 428.6L710.7 435.2L711.0 439.2L711.3 443.2L711.6 483.0L711.8 458.8L712.1 434.5L712.4 424.5L712.7 414.5L713.0 435.8L713.3 457.2L713.6 442.9L713.9 428.6L714.2 423.5L714.4 418.4L714.7 413.3L715.0 420.8L715.3 428.2L715.6 441.2L715.9 454.2L716.2 467.2L716.5 438.6L716.8 416.4L717.1 400.5L717.3 409.7L717.6 419.6L717.9 430.2L718.2 431.2L718.5 433.5L718.8 435.8L719.1 448.7L719.4 461.6L719.7 444.6L720.0 427.7L720.2 435.4L720.5 443.1L720.8 450.7L721.1 447.3L721.4 443.9L721.7 427.9L722.0 442.1L722.3 433.4L722.6 424.8L722.8 426.4L723.1 428.1L723.4 429.8L723.7 433.3L724.0 436.9L724.3 435.0L724.6 433.1L724.9 432.6L725.2 432.0L725.5 431.5L725.7 437.3L726.0 443.1L726.3 448.9L726.6 445.7L726.9 455.1L727.2 466.7L727.5 480.4L727.8 477.1L728.1 464.8L728.3 443.6L728.6 435.8L728.9 428.0L729.2 432.7L729.5 437.5L729.8 442.3L730.1 432.6L730.4 422.9L730.7 431.4L731.0 439.9L731.2 435.7L731.5 431.6L731.8 427.4L732.1 438.2L732.4 449.0L732.7 437.5L733.0 426.0L733.3 439.1L733.6 452.2L733.9 465.3L734.1 445.1L734.4 445.3L734.7 445.5L735.0 445.6L735.3 440.1L735.6 436.0L735.9 432.0L736.2 440.7L736.5 449.3L736.7 438.4L737.0 427.4L737.3 437.6L737.6 424.3L737.9 415.8L738.2 407.3L738.5 429.4L738.8 456.9L739.1 479.0L739.4 465.1L739.6 458.4L739.9 456.2L740.2 464.4L740.5 462.5L740.8 460.6L741.1 458.7L741.4 423.2L741.7 424.5L742.0 425.8L742.2 427.1L742.5 432.4L742.8 437.8L743.1 431.5L743.4 425.2L743.7 437.4L744.0 434.5L744.3 431.6L744.6 428.7L744.9 435.0L745.1 441.4L745.4 447.7L745.7 450.4L746.0 452.6L746.3 454.8L746.6 447.3L746.9 439.8L747.2 432.3L747.5 434.8L747.8 437.3L748.0 438.2L748.3 439.1L748.6 445.5L748.9 451.9L749.2 458.3L749.5 448.8L749.8 439.3L750.1 447.6L750.4 455.8L750.6 464.1L750.9 448.6L751.2 441.6L751.5 434.6L751.8 427.6L752.1 423.2L752.4 418.8L752.7 434.3L753.0 449.8L753.3 456.4L753.5 449.3L753.8 431.4L754.1 426.4L754.4 410.0L754.7 421.4L755.0 408.7L755.3 407.8L755.6 399.1" fill="none" stroke="#1f77b4" stroke-width="0.9" stroke-linejoin="round"/>
<path d="M423.4 434.3L423.7 434.3L424.0 434.3L424.3 434.3L424.6 434.3L424.8 434.3L425.1 434.3L425.4 434.3L425.7 434.3L426.0 410.0L426.3 421.1L426.6 421.1L426.9 410.0L427.2 410.0L427.5 425.4L427.7 410.0L428.0 446.5L428.3 446.5L428.6 446.5L428.9 446.5L429.2 446.5L429.5 446.5L429.8 446.5L430.1 410.0L430.4 410.0L430.6 410.0L430.9 410.0L431.2 410.0L431.5 410.0L431.8 410.0L432.1 410.0L432.4 436.8L432.7 436.8L433.0 436.8L433.2 436.8L433.5 410.0L433.8 410.0L434.1 410.0L434.4 410.0L434.7 410.0L435.0 410.0L435.3 410.0L435.6 410.0L435.9 410.0L436.1 410.0L436.4 410.0L436.7 410.0L437.0 416.6L437.3 410.0L437.6 410.0L437.9 410.0L438.2 410.0L438.5 416.6L438.7 410.0L439.0 410.0L439.3 464.1L439.6 464.1L439.9 464.1L440.2 464.1L440.5 464.1L440.8 410.0L441.1 410.0L441.4 410.0L441.6 410.0L441.9 410.0L442.2 410.0L442.5 434.0L442.8 410.0L443.1 410.0L443.4 410.0L443.7 410.0L444.0 410.0L444.3 443.3L444.5 410.0L444.8 410.0L445.1 438.4L445.4 438.4L445.7 438.4L446.0 410.0L446.3 410.0L446.6 410.0L446.9 410.0L447.1 410.0L447.4 445.8L447.7 461.4L448.0 461.4L448.3 461.4L448.6 461.4L448.9 461.4L449.2 461.4L449.5 410.0L449.8 410.0L450.0 410.0L450.3 410.0L450.6 410.0L450.9 410.0L451.2 410.0L451.5 415.5L451.8 410.0L452.1 410.0L452.4 410.0L452.6 438.0L452.9 438.0L453.2 438.0L453.5 410.0L453.8 410.0L454.1 410.0L454.4 410.0L454.7 410.0L455.0 410.0L455.3 410.0L455.5 410.0L455.8 436.2L456.1 466.8L456.4 466.8L456.7 466.8L457.0 466.8L457.3 410.0L457.6 410.0L457.9 410.0L458.2 423.2L458.4 410.0L458.7 410.0L459.0 410.0L459.3 410.0L459.6 410.0L459.9 410.0L460.2 410.0L460.5 410.0L460.8 410.0L461.0 410.0L461.3 410.0L461.6 410.0L461.9 410.0L462.2 410.0L462.5 410.0L462.8 410.0L463.1 422.3L463.4 422.3L463.7 422.3L463.9 422.3L464.2 410.0L464.5 410.0L464.8 410.0L465.1 410.0L465.4 410.0L465.7 410.0L466.0 410.0L466.3 410.0L466.6 410.0L466.8 410.0L467.1 410.0L467.4 410.0L467.7 427.8L468.0 410.0L468.3 410.0L468.6 410.0L468.9 410.0L469.2 410.0L469.4 410.0L469.7 413.2L470.0 413.2L470.3 410.0L470.6 410.0L470.9 410.0L471.2 410.0L471.5 410.0L471.8 410.0L472.1 410.0L472.3 410.0L472.6 410.0L472.9 410.0L473.2 410.0L473.5 410.0L473.8 423.0L474.1 423.0L474.4 410.0L474.7 410.0L474.9 410.0L475.2 410.0L475.5 410.0L475.8 410.0L476.1 410.0L476.4 410.0L476.7 410.0L477.0 410.0L477.3 410.0L477.6 410.0L477.8 445.9L478.1 445.9L478.4 445.9L478.7 445.9L479.0 410.0L479.3 410.0L479.6 410.0L479.9 410.0L480.2 410.0L480.5 410.0L480.7 415.6L481.0 415.6L481.3 410.0L481.6 410.0L481.9 410.0L482.2 410.0L482.5 410.0L482.8 422.8L483.1 410.0L483.3 410.0L483.6 410.0L483.9 410.0L484.2 410.0L484.5 410.0L484.8 410.0L485.1 410.0L485.4 427.3L485.7 427.3L486.0 427.3L486.2 410.0L486.5 410.0L486.8 429.3L487.1 429.3L487.4 429.3L487.7 523.7L488.0 523.7L488.3 523.7L488.6 523.7L488.8 523.7L489.1 523.7L489.4 523.7L489.7 410.0L490.0 504.7L490.3 504.7L490.6 504.7L490.9 504.7L491.2 545.4L491.5 545.4L491.7 545.4L492.0 545.4L492.3 545.4L492.6 410.0L492.9 410.0L493.2 432.4L493.5 432.4L493.8 432.4L494.1 450.6L494.4 450.6L494.6 450.6L494.9 450.6L495.2 450.6L495.5 450.6L495.8 410.0L496.1 410.0L496.4 410.0L496.7 410.0L497.0 410.0L497.2 410.0L497.5 491.2L497.8 491.2L498.1 491.2L498.4 491.2L498.7 491.2L499.0 491.2L499.3 431.3L499.6 431.3L499.9 410.0L500.1 410.0L500.4 461.4L500.7 461.4L501.0 461.4L501.3 461.4L501.6 461.4L501.9 461.4L502.2 484.4L502.5 484.4L502.8 484.4L503.0 484.4L503.3 484.4L503.6 484.4L503.9 484.4L504.2 410.0L504.5 410.0L504.8 461.4L505.1 461.4L505.4 461.4L505.6 461.4L505.9 461.4L506.2 410.0L506.5 410.0L506.8 410.0L507.1 410.0L507.4 410.0L507.7 410.0L508.0 410.0L508.3 410.0L508.5 410.0L508.8 410.0L509.1 410.0L509.4 410.0L509.7 410.0L510.0 410.0L510.3 410.0L510.6 410.0L510.9 410.0L511.1 410.0L511.4 410.0L511.7 410.0L512.0 410.0L512.3 410.0L512.6 410.0L512.9 410.0L513.2 410.0L513.5 410.0L513.8 410.0L514.0 410.0L514.3 410.0L514.6 410.0L514.9 410.0L515.2 410.0L515.5 424.7L515.8 424.7L516.1 424.7L516.4 424.7L516.7 410.0L516.9 410.0L517.2 410.0L517.5 410.0L517.8 410.0L518.1 410.0L518.4 410.0L518.7 410.0L519.0 410.0L519.3 410.0L519.5 410.0L519.8 410.0L520.1 410.0L520.4 410.0L520.7 410.0L521.0 410.0L521.3 410.0L521.6 410.0L521.9 410.0L522.2 410.0L522.4 410.0L522.7 410.0L523.0 410.0L523.3 410.0L523.6 410.0L523.9 410.0L524.2 410.0L524.5 410.0L524.8 438.9L525.0 438.9L525.3 410.0L525.6 410.0L525.9 410.0L526.2 410.0L526.5 410.0L526.8 410.0L527.1 410.0L527.4 410.0L527.7 410.0L527.9 410.0L528.2 410.0L528.5 410.0L528.8 410.0L529.1 410.0L529.4 410.0L529.7 410.0L530.0 410.0L530.3 410.0L530.6 410.0L530.8 410.0L531.1 410.0L531.4 410.0L531.7 410.0L532.0 410.0L532.3 410.0L532.6 410.0L532.9 410.0L533.2 410.0L533.4 410.0L533.7 410.0L534.0 410.0L534.3 410.0L534.6 410.0L534.9 410.0L535.2 410.0L535.5 410.0L535.8 410.0L536.1 410.0L536.3 410.0L536.6 410.0L536.9 410.0L537.2 410.0L537.5 422.6L537.8 410.0L538.1 410.0L538.4 410.0L538.7 410.0L539.0 410.0L539.2 410.0L539.5 410.0L539.8 410.0L540.1 437.3L540.4 410.0L540.7 410.0L541.0 410.0L541.3 410.0L541.6 410.0L541.8 410.0L542.1 410.0L542.4 410.0L542.7 410.0L543.0 410.0L543.3 410.0L543.6 410.0L543.9 410.0L544.2 410.0L544.5 410.0L544.7 410.0L545.0 410.0L545.3 410.0L545.6 410.0L545.9 410.0L546.2 410.0L546.5 410.0L546.8 410.0L547.1 410.0L547.3 410.0L547.6 410.0L547.9 427.0L548.2 410.0L548.5 410.0L548.8 410.0L549.1 410.0L549.4 410.0L549.7 410.0L550.0 434.2L550.2 410.0L550.5 410.0L550.8 410.0L551.1 414.9L551.4 414.9L551.7 414.9L552.0 410.0L552.3 410.0L552.6 410.0L552.9 410.0L553.1 410.0L553.4 410.0L553.7 410.0L554.0 410.0L554.3 410.0L554.6 410.0L554.9 410.0L555.2 410.0L555.5 410.0L555.7 410.0L556.0 410.0L556.3 410.0L556.6 445.2L556.9 410.0L557.2 410.0L557.5 410.0L557.8 410.0L558.1 410.0L558.4 412.9L558.6 412.9L558.9 412.9L559.2 412.9L559.5 410.0L559.8 410.0L560.1 410.0L560.4 410.0L560.7 410.0L561.0 410.0L561.2 410.0L561.5 410.0L561.8 410.0L562.1 410.0L562.4 410.0L562.7 410.0L563.0 410.0L563.3 410.0L563.6 410.0L563.9 410.0L564.1 420.7L564.4 420.7L564.7 420.7L565.0 420.7L565.3 410.0L565.6 410.0L565.9 410.0L566.2 410.0L566.5 410.0L566.8 410.0L567.0 410.0L567.3 410.0L567.6 410.0L567.9 410.0L568.2 466.8L568.5 466.8L568.8 466.8L569.1 466.8L569.4 466.8L569.6 466.8L569.9 466.8L570.2 434.2L570.5 410.0L570.8 410.0L571.1 470.9L571.4 470.9L571.7 470.9L572.0 470.9L572.3 470.9L572.5 470.9L572.8 410.0L573.1 461.4L573.4 461.4L573.7 461.4L574.0 461.4L574.3 410.0L574.6 410.0L574.9 410.0L575.2 410.0L575.4 410.0L575.7 410.0L576.0 410.0L576.3 410.0L576.6 410.0L576.9 433.5L577.2 433.5L577.5 410.0L577.8 422.0L578.0 410.0L578.3 410.0L578.6 410.0L578.9 410.0L579.2 410.0L579.5 410.0L579.8 410.0L580.1 410.0L580.4 410.0L580.7 410.0L580.9 410.0L581.2 410.0L581.5 410.0L581.8 410.0L582.1 410.0L582.4 410.0L582.7 410.0L583.0 410.0L583.3 410.0L583.5 410.0L583.8 410.0L584.1 410.0L584.4 410.0L584.7 410.0L585.0 410.0L585.3 410.0L585.6 410.0L585.9 444.4L586.2 444.4L586.4 444.4L586.7 410.0L587.0 444.8L587.3 410.0L587.6 410.0L587.9 410.0L588.2 410.0L588.5 410.0L588.8 410.0L589.1 410.0L589.3 410.0L589.6 410.0L589.9 410.0L590.2 410.0L590.5 410.0L590.8 410.0L591.1 410.0L591.4 410.0L591.7 410.0L591.9 410.0L592.2 410.0L592.5 410.0L592.8 410.0L593.1 410.0L593.4 410.0L593.7 410.0L594.0 410.0L594.3 410.0L594.6 410.0L594.8 410.0L595.1 410.0L595.4 410.0L595.7 410.0L596.0 410.0L596.3 410.0L596.6 410.0L596.9 410.0L597.2 410.0L597.4 410.0L597.7 410.0L598.0 433.8L598.3 433.8L598.6 410.0L598.9 410.0L599.2 410.0L599.5 434.9L599.8 410.0L600.1 410.0L600.3 410.0L600.6 435.9L600.9 410.0L601.2 410.0L601.5 410.0L601.8 438.2L602.1 410.0L602.4 410.0L602.7 438.0L603.0 507.4L603.2 507.4L603.5 507.4L603.8 507.4L604.1 410.0L604.4 483.1L604.7 483.1L605.0 483.1L605.3 483.1L605.6 483.1L605.8 410.0L606.1 410.0L606.4 410.0L606.7 410.0L607.0 410.0L607.3 410.0L607.6 410.0L607.9 410.0L608.2 410.0L608.5 410.0L608.7 410.0L609.0 410.0L609.3 410.0L609.6 410.0L609.9 466.5L610.2 466.5L610.5 466.5L610.8 410.0L611.1 410.0L611.4 410.0L611.6 410.0L611.9 410.0L612.2 410.0L612.5 410.0L612.8 410.0L613.1 424.9L613.4 410.0L613.7 410.0L614.0 410.0L614.2 410.0L614.5 410.0L614.8 410.0L615.1 410.0L615.4 410.0L615.7 410.0L616.0 410.0L616.3 410.0L616.6 410.0L616.9 410.0L617.1 410.0L617.4 410.0L617.7 410.0L618.0 410.0L618.3 410.0L618.6 410.0L618.9 410.0L619.2 410.0L619.5 410.0L619.7 410.0L620.0 410.0L620.3 410.0L620.6 410.0L620.9 410.0L621.2 410.0L621.5 410.0L621.8 410.0L622.1 410.0L622.4 410.0L622.6 410.0L622.9 410.0L623.2 410.0L623.5 410.0L623.8 410.0L624.1 410.0L624.4 410.0L624.7 410.0L625.0 410.0L625.3 410.0L625.5 410.0L625.8 410.0L626.1 410.0L626.4 410.0L626.7 410.0L627.0 410.0L627.3 410.0L627.6 410.0L627.9 410.0L628.1 410.0L628.4 429.6L628.7 410.0L629.0 410.0L629.3 421.0L629.6 421.0L629.9 421.0L630.2 421.0L630.5 508.8L630.8 508.8L631.0 508.8L631.3 508.8L631.6 410.0L631.9 410.0L632.2 410.0L632.5 410.0L632.8 510.2L633.1 510.2L633.4 510.2L633.6 510.2L633.9 410.0L634.2 410.0L634.5 410.0L634.8 410.0L635.1 410.0L635.4 410.0L635.7 410.0L636.0 410.0L636.3 410.0L636.5 410.0L636.8 410.0L637.1 410.0L637.4 410.0L637.7 410.0L638.0 410.0L638.3 410.0L638.6 410.0L638.9 410.0L639.2 410.0L639.4 410.0L639.7 410.0L640.0 417.4L640.3 417.4L640.6 410.0L640.9 410.0L641.2 432.2L641.5 410.0L641.8 410.0L642.0 496.6L642.3 496.6L642.6 496.6L642.9 496.6L643.2 410.0L643.5 410.0L643.8 410.0L644.1 410.0L644.4 410.0L644.7 410.0L644.9 410.0L645.2 410.0L645.5 410.0L645.8 410.0L646.1 443.4L646.4 410.0L646.7 410.0L647.0 410.0L647.3 414.9L647.6 414.9L647.8 410.0L648.1 410.0L648.4 410.0L648.7 410.0L649.0 410.0L649.3 410.0L649.6 410.0L649.9 410.0L650.2 410.0L650.4 410.0L650.7 410.0L651.0 410.0L651.3 410.0L651.6 410.0L651.9 410.0L652.2 410.0L652.5 420.4L652.8 410.0L653.1 410.0L653.3 410.0L653.6 434.1L653.9 410.0L654.2 446.8L654.5 446.8L654.8 446.8L655.1 410.0L655.4 410.0L655.7 410.0L655.9 410.0L656.2 410.0L656.5 410.0L656.8 410.0L657.1 410.0L657.4 410.0L657.7 410.0L658.0 410.0L658.3 410.0L658.6 419.3L658.8 419.3L659.1 410.0L659.4 410.0L659.7 410.0L660.0 410.0L660.3 410.0L660.6 410.0L660.9 410.0L661.2 410.0L661.5 410.0L661.7 410.0L662.0 410.0L662.3 410.0L662.6 410.0L662.9 410.0L663.2 410.0L663.5 410.0L663.8 410.0L664.1 410.0L664.3 410.0L664.6 410.0L664.9 410.0L665.2 410.0L665.5 436.1L665.8 410.0L666.1 410.0L666.4 410.0L666.7 410.0L667.0 410.0L667.2 410.0L667.5 410.0L667.8 410.0L668.1 423.5L668.4 423.5L668.7 423.5L669.0 423.5L669.3 410.0L669.6 429.1L669.8 429.1L670.1 410.0L670.4 410.0L670.7 437.8L671.0 437.8L671.3 410.0L671.6 430.2L671.9 430.2L672.2 410.0L672.5 414.9L672.7 410.0L673.0 410.0L673.3 410.0L673.6 410.0L673.9 410.0L674.2 410.0L674.5 410.0L674.8 410.0L675.1 410.0L675.4 410.0L675.6 410.0L675.9 410.0L676.2 410.0L676.5 410.0L676.8 410.0L677.1 410.0L677.4 410.0L677.7 410.0L678.0 410.0L678.2 410.0L678.5 410.0L678.8 410.0L679.1 447.5L679.4 447.5L679.7 447.5L680.0 447.5L680.3 410.0L680.6 410.0L680.9 410.0L681.1 410.0L681.4 410.0L681.7 410.0L682.0 410.0L682.3 410.0L682.6 410.0L682.9 410.0L683.2 410.0L683.5 410.0L683.8 460.3L684.0 410.0L684.3 410.0L684.6 410.0L684.9 410.0L685.2 410.0L685.5 410.0L685.8 410.0L686.1 410.0L686.4 410.0L686.6 410.0L686.9 410.0L687.2 410.0L687.5 417.6L687.8 410.0L688.1 410.0L688.4 410.0L688.7 410.0L689.0 410.0L689.3 410.0L689.5 410.0L689.8 410.0L690.1 410.0L690.4 410.0L690.7 410.0L691.0 410.0L691.3 410.0L691.6 410.0L691.9 410.0L692.1 410.0L692.4 410.0L692.7 410.0L693.0 410.0L693.3 410.0L693.6 410.0L693.9 410.0L694.2 415.2L694.5 410.0L694.8 410.0L695.0 410.0L695.3 410.0L695.6 410.0L695.9 410.0L696.2 410.0L696.5 410.0L696.8 410.0L697.1 410.0L697.4 410.0L697.7 410.0L697.9 410.0L698.2 410.0L698.5 410.0L698.8 410.0L699.1 430.8L699.4 430.8L699.7 430.8L700.0 430.8L700.3 410.0L700.5 410.0L700.8 410.0L701.1 410.0L701.4 410.0L701.7 410.0L702.0 410.0L702.3 410.0L702.6 410.0L702.9 410.0L703.2 410.0L703.4 410.0L703.7 410.0L704.0 410.0L704.3 410.0L704.6 410.0L704.9 410.0L705.2 410.0L705.5 410.0L705.8 410.0L706.0 410.0L706.3 410.0L706.6 443.3L706.9 443.3L707.2 410.0L707.5 410.0L707.8 410.0L708.1 410.0L708.4 421.8L708.7 410.0L708.9 410.0L709.2 410.0L709.5 410.0L709.8 410.0L710.1 410.0L710.4 410.0L710.7 410.0L711.0 410.0L711.3 410.0L711.6 410.0L711.8 410.0L712.1 410.0L712.4 410.0L712.7 410.0L713.0 410.0L713.3 410.0L713.6 410.0L713.9 410.0L714.2 410.0L714.4 410.0L714.7 410.0L715.0 427.5L715.3 410.0L715.6 410.0L715.9 410.0L716.2 410.0L716.5 422.5L716.8 410.0L717.1 410.0L717.3 410.0L717.6 410.0L717.9 410.0L718.2 410.0L718.5 410.0L718.8 410.0L719.1 435.3L719.4 435.3L719.7 410.0L720.0 410.0L720.2 434.3L720.5 461.4L720.8 461.4L721.1 461.4L721.4 434.3L721.7 434.3L722.0 434.3L722.3 434.3L722.6 434.3L722.8 434.3L723.1 434.3L723.4 434.3L723.7 434.3L724.0 434.3L724.3 434.3L724.6 434.3L724.9 434.3L725.2 434.3L725.5 434.3L725.7 434.3L726.0 434.3L726.3 434.3L726.6 434.3L726.9 434.3L727.2 434.3L727.5 410.0L727.8 410.0L728.1 426.6L728.3 426.6L728.6 426.6L728.9 410.0L729.2 410.0L729.5 410.0L729.8 410.0L730.1 410.0L730.4 410.0L730.7 410.0L731.0 410.0L731.2 410.0L731.5 410.0L731.8 410.0L732.1 410.0L732.4 410.0L732.7 410.0L733.0 410.0L733.3 410.0L733.6 410.0L733.9 410.0L734.1 410.0L734.4 410.0L734.7 410.0L735.0 410.0L735.3 410.0L735.6 427.5L735.9 410.0L736.2 410.0L736.5 410.0L736.7 410.0L737.0 410.0L737.3 410.0L737.6 410.0L737.9 410.0L738.2 410.0L738.5 410.0L738.8 410.0L739.1 410.0L739.4 410.0L739.6 410.0L739.9 410.0L740.2 410.0L740.5 410.0L740.8 410.0L741.1 410.0L741.4 410.0L741.7 410.0L742.0 410.0L742.2 418.8L742.5 410.0L742.8 410.0L743.1 410.0L743.4 410.0L743.7 410.0L744.0 410.0L744.3 410.0L744.6 410.0L744.9 410.0L745.1 410.0L745.4 410.0L745.7 410.0L746.0 410.0L746.3 410.0L746.6 410.0L746.9 410.0L747.2 410.0L747.5 410.0L747.8 410.0L748.0 410.0L748.3 410.0L748.6 410.0L748.9 437.6L749.2 437.6L749.5 437.6L749.8 437.6L750.1 410.0L750.4 410.0L750.6 426.6L750.9 410.0L751.2 410.0L751.5 410.0L751.8 410.0L752.1 434.7L752.4 410.0L752.7 410.0L753.0 410.0L753.3 453.7L753.5 434.3L753.8 434.3L754.1 434.3L754.4 434.3L754.7 434.3L755.0 434.3L755.3 531.8L755.6 531.8" fill="none" stroke="#ff7f0e" stroke-width="0.9" stroke-linejoin="round"/>
<rect x="406.7" y="372.4" width="365.70" height="181.00" fill="none" stroke="#444444" stroke-width="0.7"/>
<text x="423.4" y="561.6" font-size="5.3" class="dj" text-anchor="middle">0</text>
<text x="481.3" y="561.6" font-size="5.3" class="dj" text-anchor="middle">200</text>
<text x="539.2" y="561.6" font-size="5.3" class="dj" text-anchor="middle">400</text>
<text x="597.2" y="561.6" font-size="5.3" class="dj" text-anchor="middle">600</text>
<text x="655.1" y="561.6" font-size="5.3" class="dj" text-anchor="middle">800</text>
<text x="713.0" y="561.6" font-size="5.3" class="dj" text-anchor="middle">1000</text>
<text x="770.9" y="561.6" font-size="5.3" class="dj" text-anchor="middle">1200</text>
<text x="403.3" y="547.2" font-size="5.3" class="dj" text-anchor="end">0</text>
<text x="403.3" y="520.2" font-size="5.3" class="dj" text-anchor="end">20</text>
<text x="403.3" y="493.1" font-size="5.3" class="dj" text-anchor="end">40</text>
<text x="403.3" y="466.0" font-size="5.3" class="dj" text-anchor="end">60</text>
<text x="403.3" y="438.9" font-size="5.3" class="dj" text-anchor="end">80</text>
<text x="403.3" y="411.9" font-size="5.3" class="dj" text-anchor="end">100</text>
<text x="403.3" y="384.8" font-size="5.3" class="dj" text-anchor="end">120</text>
<path d="M423.4 553.4v2M481.3 553.4v2M539.2 553.4v2M597.2 553.4v2M655.1 553.4v2M713.0 553.4v2M770.9 553.4v2M406.7 545.4h-2M406.7 518.3h-2M406.7 491.2h-2M406.7 464.1h-2M406.7 437.0h-2M406.7 410.0h-2M406.7 382.9h-2" stroke="#333" stroke-width="0.8"/>
<text x="589.5" y="369.0" font-size="6.3" class="dj" text-anchor="middle" textLength="54" lengthAdjust="spacingAndGlyphs">Ityp01729-mRNA</text>
<rect x="409.4" y="524.4" width="63.5" height="26.8" rx="1.3" fill="#fff" fill-opacity="0.8" stroke="#cccccc" stroke-width="0.6"/>
<path d="M411.8 529.4h11.4" stroke="#1f77b4" stroke-width="0.8"/><path d="M411.8 537.7h11.4" stroke="#ff7f0e" stroke-width="0.8"/><rect x="411.8" y="543.8" width="11.4" height="4" fill="#ffffb0"/>
<text x="426.7" y="531.4" font-size="5.4" class="dj" text-anchor="start" textLength="43.3" lengthAdjust="spacingAndGlyphs">Efficiency Score</text>
<text x="426.7" y="539.7" font-size="5.4" class="dj" text-anchor="start" textLength="33.8" lengthAdjust="spacingAndGlyphs">Safety Score</text>
<text x="426.7" y="547.8" font-size="5.4" class="dj" text-anchor="start" textLength="43.6" lengthAdjust="spacingAndGlyphs">Selected Region</text>
<text x="540" y="576.9" font-size="12.4" textLength="84.5" lengthAdjust="spacingAndGlyphs">Position (5 &gt; 3)</text>
<text x="7.8" y="600" font-size="19.6" class="hm" textLength="17.5" lengthAdjust="spacingAndGlyphs">g)</text>
<g fill="#9467bd"><circle cx="47.4" cy="735.4" r="0.8"/><circle cx="47.0" cy="734.4" r="0.8"/><circle cx="43.8" cy="734.4" r="0.8"/><circle cx="44.9" cy="735.4" r="0.8"/><circle cx="46.8" cy="735.4" r="0.8"/><circle cx="46.9" cy="734.4" r="0.8"/><circle cx="51.1" cy="735.4" r="0.8"/><circle cx="44.9" cy="731.4" r="0.8"/><circle cx="51.3" cy="733.4" r="0.8"/><circle cx="48.9" cy="735.4" r="0.8"/><circle cx="49.4" cy="735.4" r="0.8"/><circle cx="56.9" cy="735.4" r="0.8"/><circle cx="60.4" cy="735.4" r="0.8"/><circle cx="86.2" cy="734.4" r="0.8"/><circle cx="97.9" cy="735.4" r="0.8"/><circle cx="75.7" cy="735.4" r="0.8"/><circle cx="104.9" cy="735.4" r="0.8"/><circle cx="90.9" cy="732.4" r="0.8"/><circle cx="104.4" cy="735.4" r="0.8"/><circle cx="85.2" cy="735.4" r="0.8"/><circle cx="92.1" cy="735.4" r="0.8"/><circle cx="116.5" cy="735.4" r="0.8"/><circle cx="112.7" cy="735.4" r="0.8"/><circle cx="118.1" cy="734.4" r="0.8"/><circle cx="112.3" cy="735.4" r="0.8"/><circle cx="136.8" cy="735.4" r="0.8"/><circle cx="151.8" cy="734.4" r="0.8"/><circle cx="149.2" cy="735.4" r="0.8"/><circle cx="140.4" cy="735.4" r="0.8"/><circle cx="159.1" cy="733.4" r="0.8"/><circle cx="148.1" cy="734.4" r="0.8"/><circle cx="136.6" cy="735.4" r="0.8"/><circle cx="148.6" cy="735.4" r="0.8"/><circle cx="159.1" cy="734.4" r="0.8"/><circle cx="144.8" cy="735.4" r="0.8"/><circle cx="137.8" cy="735.4" r="0.8"/><circle cx="179.9" cy="733.4" r="0.8"/><circle cx="181.5" cy="735.4" r="0.8"/><circle cx="170.3" cy="733.4" r="0.8"/><circle cx="180.3" cy="733.4" r="0.8"/><circle cx="201.6" cy="735.4" r="0.8"/><circle cx="206.1" cy="735.4" r="0.8"/><circle cx="219.6" cy="735.4" r="0.8"/><circle cx="222.4" cy="734.4" r="0.8"/><circle cx="206.6" cy="734.4" r="0.8"/><circle cx="232.2" cy="735.4" r="0.8"/><circle cx="220.1" cy="735.4" r="0.8"/><circle cx="213.3" cy="734.4" r="0.8"/><circle cx="216.5" cy="730.4" r="0.8"/><circle cx="225.6" cy="735.4" r="0.8"/><circle cx="222.4" cy="735.4" r="0.8"/><circle cx="276.9" cy="735.4" r="0.8"/><circle cx="261.3" cy="735.4" r="0.8"/><circle cx="254.1" cy="734.4" r="0.8"/><circle cx="278.6" cy="735.4" r="0.8"/><circle cx="251.6" cy="735.4" r="0.8"/><circle cx="266.9" cy="734.4" r="0.8"/><circle cx="272.5" cy="735.4" r="0.8"/><circle cx="253.3" cy="735.4" r="0.8"/><circle cx="277.7" cy="735.4" r="0.8"/><circle cx="279.4" cy="735.4" r="0.8"/><circle cx="242.6" cy="734.4" r="0.8"/><circle cx="321.8" cy="735.4" r="0.8"/><circle cx="301.2" cy="735.4" r="0.8"/><circle cx="319.2" cy="735.4" r="0.8"/><circle cx="285.1" cy="735.4" r="0.8"/><circle cx="290.9" cy="735.4" r="0.8"/><circle cx="330.3" cy="735.4" r="0.8"/><circle cx="310.4" cy="733.4" r="0.8"/><circle cx="287.0" cy="733.4" r="0.8"/><circle cx="316.5" cy="733.4" r="0.8"/><circle cx="305.5" cy="735.4" r="0.8"/><circle cx="286.8" cy="734.4" r="0.8"/><circle cx="311.8" cy="735.4" r="0.8"/><circle cx="330.4" cy="734.4" r="0.8"/><circle cx="289.3" cy="735.4" r="0.8"/><circle cx="366.7" cy="735.4" r="0.8"/><circle cx="338.9" cy="735.4" r="0.8"/><circle cx="343.3" cy="734.4" r="0.8"/><circle cx="336.4" cy="735.4" r="0.8"/><circle cx="357.9" cy="735.4" r="0.8"/><circle cx="354.4" cy="735.4" r="0.8"/><circle cx="354.2" cy="734.4" r="0.8"/><circle cx="364.2" cy="735.4" r="0.8"/><circle cx="230.8" cy="735.4" r="0.8"/><circle cx="88.7" cy="735.4" r="0.8"/><circle cx="81.5" cy="735.4" r="0.8"/><circle cx="219.6" cy="735.4" r="0.8"/><circle cx="82.1" cy="735.4" r="0.8"/><circle cx="169.7" cy="735.4" r="0.8"/><circle cx="364.0" cy="735.4" r="0.8"/></g>
<g fill="#d62728"><circle cx="50.7" cy="735.4" r="0.8"/><circle cx="45.3" cy="734.4" r="0.8"/><circle cx="50.6" cy="734.4" r="0.8"/><circle cx="46.3" cy="735.4" r="0.8"/><circle cx="48.4" cy="734.4" r="0.8"/><circle cx="44.7" cy="734.4" r="0.8"/><circle cx="45.2" cy="735.4" r="0.8"/><circle cx="45.5" cy="733.4" r="0.8"/><circle cx="51.7" cy="729.4" r="0.8"/><circle cx="48.5" cy="735.4" r="0.8"/><circle cx="45.6" cy="734.4" r="0.8"/><circle cx="45.0" cy="734.4" r="0.8"/><circle cx="47.9" cy="735.4" r="0.8"/><circle cx="49.5" cy="735.4" r="0.8"/><circle cx="51.2" cy="734.4" r="0.8"/><circle cx="49.0" cy="733.4" r="0.8"/><circle cx="47.9" cy="734.4" r="0.8"/><circle cx="47.7" cy="732.4" r="0.8"/><circle cx="55.3" cy="735.4" r="0.8"/><circle cx="66.8" cy="733.4" r="0.8"/><circle cx="89.3" cy="734.4" r="0.8"/><circle cx="101.9" cy="733.4" r="0.8"/><circle cx="74.2" cy="735.4" r="0.8"/><circle cx="87.0" cy="735.4" r="0.8"/><circle cx="101.9" cy="734.4" r="0.8"/><circle cx="96.8" cy="734.4" r="0.8"/><circle cx="100.6" cy="735.4" r="0.8"/><circle cx="95.6" cy="735.4" r="0.8"/><circle cx="87.6" cy="735.4" r="0.8"/><circle cx="88.2" cy="734.4" r="0.8"/><circle cx="102.4" cy="735.4" r="0.8"/><circle cx="86.1" cy="735.4" r="0.8"/><circle cx="77.7" cy="735.4" r="0.8"/><circle cx="80.7" cy="735.4" r="0.8"/><circle cx="94.7" cy="734.4" r="0.8"/><circle cx="103.1" cy="735.4" r="0.8"/><circle cx="79.6" cy="733.4" r="0.8"/><circle cx="77.4" cy="735.4" r="0.8"/><circle cx="97.5" cy="735.4" r="0.8"/><circle cx="96.8" cy="734.4" r="0.8"/><circle cx="79.2" cy="735.4" r="0.8"/><circle cx="78.3" cy="733.4" r="0.8"/><circle cx="117.2" cy="734.4" r="0.8"/><circle cx="117.6" cy="734.4" r="0.8"/><circle cx="132.8" cy="735.4" r="0.8"/><circle cx="114.7" cy="733.4" r="0.8"/><circle cx="117.5" cy="735.4" r="0.8"/><circle cx="115.0" cy="734.4" r="0.8"/><circle cx="140.8" cy="735.4" r="0.8"/><circle cx="159.5" cy="734.4" r="0.8"/><circle cx="153.6" cy="735.4" r="0.8"/><circle cx="147.5" cy="734.4" r="0.8"/><circle cx="150.3" cy="734.4" r="0.8"/><circle cx="154.1" cy="732.4" r="0.8"/><circle cx="147.5" cy="733.4" r="0.8"/><circle cx="136.9" cy="735.4" r="0.8"/><circle cx="146.0" cy="735.4" r="0.8"/><circle cx="145.9" cy="735.4" r="0.8"/><circle cx="155.4" cy="735.4" r="0.8"/><circle cx="140.1" cy="735.4" r="0.8"/><circle cx="154.2" cy="734.4" r="0.8"/><circle cx="153.5" cy="734.4" r="0.8"/><circle cx="144.8" cy="734.4" r="0.8"/><circle cx="155.2" cy="734.4" r="0.8"/><circle cx="135.8" cy="733.4" r="0.8"/><circle cx="160.4" cy="735.4" r="0.8"/><circle cx="136.4" cy="734.4" r="0.8"/><circle cx="136.4" cy="735.4" r="0.8"/><circle cx="139.2" cy="733.4" r="0.8"/><circle cx="156.2" cy="735.4" r="0.8"/><circle cx="144.9" cy="729.4" r="0.8"/><circle cx="146.8" cy="735.4" r="0.8"/><circle cx="156.5" cy="733.4" r="0.8"/><circle cx="136.6" cy="735.4" r="0.8"/><circle cx="137.9" cy="734.4" r="0.8"/><circle cx="139.2" cy="734.4" r="0.8"/><circle cx="143.0" cy="734.4" r="0.8"/><circle cx="148.4" cy="735.4" r="0.8"/><circle cx="139.5" cy="735.4" r="0.8"/><circle cx="134.9" cy="734.4" r="0.8"/><circle cx="191.8" cy="735.4" r="0.8"/><circle cx="192.6" cy="734.4" r="0.8"/><circle cx="181.0" cy="735.4" r="0.8"/><circle cx="183.3" cy="733.4" r="0.8"/><circle cx="191.9" cy="735.4" r="0.8"/><circle cx="172.3" cy="734.4" r="0.8"/><circle cx="172.5" cy="735.4" r="0.8"/><circle cx="186.3" cy="735.4" r="0.8"/><circle cx="165.5" cy="735.4" r="0.8"/><circle cx="203.2" cy="735.4" r="0.8"/><circle cx="226.1" cy="735.4" r="0.8"/><circle cx="206.1" cy="734.4" r="0.8"/><circle cx="205.8" cy="733.4" r="0.8"/><circle cx="203.7" cy="735.4" r="0.8"/><circle cx="197.7" cy="735.4" r="0.8"/><circle cx="239.1" cy="735.4" r="0.8"/><circle cx="207.0" cy="735.4" r="0.8"/><circle cx="217.8" cy="733.4" r="0.8"/><circle cx="220.7" cy="734.4" r="0.8"/><circle cx="209.5" cy="734.4" r="0.8"/><circle cx="227.2" cy="735.4" r="0.8"/><circle cx="200.9" cy="735.4" r="0.8"/><circle cx="199.5" cy="735.4" r="0.8"/><circle cx="210.5" cy="735.4" r="0.8"/><circle cx="213.0" cy="735.4" r="0.8"/><circle cx="230.0" cy="735.4" r="0.8"/><circle cx="207.9" cy="734.4" r="0.8"/><circle cx="218.5" cy="735.4" r="0.8"/><circle cx="220.6" cy="735.4" r="0.8"/><circle cx="226.2" cy="735.4" r="0.8"/><circle cx="248.6" cy="735.4" r="0.8"/><circle cx="277.7" cy="735.4" r="0.8"/><circle cx="255.9" cy="735.4" r="0.8"/><circle cx="275.2" cy="734.4" r="0.8"/><circle cx="242.6" cy="735.4" r="0.8"/><circle cx="277.8" cy="734.4" r="0.8"/><circle cx="250.9" cy="734.4" r="0.8"/><circle cx="256.2" cy="735.4" r="0.8"/><circle cx="253.9" cy="735.4" r="0.8"/><circle cx="264.5" cy="734.4" r="0.8"/><circle cx="270.7" cy="734.4" r="0.8"/><circle cx="251.5" cy="734.4" r="0.8"/><circle cx="256.2" cy="735.4" r="0.8"/><circle cx="251.5" cy="734.4" r="0.8"/><circle cx="276.5" cy="735.4" r="0.8"/><circle cx="249.2" cy="734.4" r="0.8"/><circle cx="264.1" cy="733.4" r="0.8"/><circle cx="278.8" cy="734.4" r="0.8"/><circle cx="283.4" cy="730.4" r="0.8"/><circle cx="293.9" cy="735.4" r="0.8"/><circle cx="328.9" cy="730.4" r="0.8"/><circle cx="316.2" cy="735.4" r="0.8"/><circle cx="320.0" cy="735.4" r="0.8"/><circle cx="306.1" cy="735.4" r="0.8"/><circle cx="301.2" cy="734.4" r="0.8"/><circle cx="301.4" cy="734.4" r="0.8"/><circle cx="296.3" cy="734.4" r="0.8"/><circle cx="309.5" cy="735.4" r="0.8"/><circle cx="330.1" cy="735.4" r="0.8"/><circle cx="322.1" cy="730.4" r="0.8"/><circle cx="297.1" cy="735.4" r="0.8"/><circle cx="294.2" cy="735.4" r="0.8"/><circle cx="287.0" cy="735.4" r="0.8"/><circle cx="298.8" cy="735.4" r="0.8"/><circle cx="329.3" cy="734.4" r="0.8"/><circle cx="300.8" cy="735.4" r="0.8"/><circle cx="286.9" cy="734.4" r="0.8"/><circle cx="301.0" cy="734.4" r="0.8"/><circle cx="311.5" cy="735.4" r="0.8"/><circle cx="319.5" cy="735.4" r="0.8"/><circle cx="311.8" cy="735.4" r="0.8"/><circle cx="317.1" cy="735.4" r="0.8"/><circle cx="301.7" cy="735.4" r="0.8"/><circle cx="288.4" cy="735.4" r="0.8"/><circle cx="321.7" cy="735.4" r="0.8"/><circle cx="314.9" cy="734.4" r="0.8"/><circle cx="345.5" cy="735.4" r="0.8"/><circle cx="345.5" cy="735.4" r="0.8"/><circle cx="354.5" cy="735.4" r="0.8"/><circle cx="339.1" cy="735.4" r="0.8"/><circle cx="343.2" cy="735.4" r="0.8"/><circle cx="337.0" cy="735.4" r="0.8"/><circle cx="343.4" cy="735.4" r="0.8"/><circle cx="338.2" cy="735.4" r="0.8"/><circle cx="339.4" cy="735.4" r="0.8"/><circle cx="365.5" cy="734.4" r="0.8"/><circle cx="317.2" cy="735.4" r="0.8"/><circle cx="146.1" cy="735.4" r="0.8"/><circle cx="111.5" cy="734.4" r="0.8"/><circle cx="286.6" cy="735.4" r="0.8"/><circle cx="163.8" cy="735.4" r="0.8"/><circle cx="352.1" cy="735.4" r="0.8"/><circle cx="227.8" cy="735.4" r="0.8"/><circle cx="129.5" cy="734.4" r="0.8"/><circle cx="236.8" cy="735.4" r="0.8"/><circle cx="137.3" cy="735.4" r="0.8"/><circle cx="216.8" cy="735.4" r="0.8"/><circle cx="98.2" cy="735.4" r="0.8"/><circle cx="250.7" cy="735.4" r="0.8"/><circle cx="264.5" cy="734.4" r="0.8"/><circle cx="343.1" cy="735.4" r="0.8"/><circle cx="286.4" cy="723.4" r="0.8"/><circle cx="286.4" cy="724.4" r="0.8"/><circle cx="148.5" cy="726.4" r="0.8"/><circle cx="103.5" cy="726.4" r="0.8"/><circle cx="353.4" cy="728.4" r="0.8"/></g>
<g fill="#2ca02c"><circle cx="47.9" cy="735.4" r="0.8"/><circle cx="46.2" cy="731.4" r="0.8"/><circle cx="51.0" cy="730.4" r="0.8"/><circle cx="48.8" cy="730.4" r="0.8"/><circle cx="50.5" cy="735.4" r="0.8"/><circle cx="47.8" cy="732.4" r="0.8"/><circle cx="46.0" cy="728.4" r="0.8"/><circle cx="44.0" cy="732.4" r="0.8"/><circle cx="43.9" cy="734.4" r="0.8"/><circle cx="51.3" cy="732.4" r="0.8"/><circle cx="45.9" cy="733.4" r="0.8"/><circle cx="45.3" cy="732.4" r="0.8"/><circle cx="43.9" cy="732.4" r="0.8"/><circle cx="50.7" cy="735.4" r="0.8"/><circle cx="46.9" cy="735.4" r="0.8"/><circle cx="48.5" cy="723.4" r="0.8"/><circle cx="45.2" cy="733.4" r="0.8"/><circle cx="47.2" cy="735.4" r="0.8"/><circle cx="45.2" cy="735.4" r="0.8"/><circle cx="47.7" cy="734.4" r="0.8"/><circle cx="44.2" cy="734.4" r="0.8"/><circle cx="48.1" cy="735.4" r="0.8"/><circle cx="49.1" cy="730.4" r="0.8"/><circle cx="49.5" cy="735.4" r="0.8"/><circle cx="46.3" cy="710.3" r="0.8"/><circle cx="51.1" cy="726.4" r="0.8"/><circle cx="47.6" cy="723.4" r="0.8"/><circle cx="47.1" cy="724.4" r="0.8"/><circle cx="43.9" cy="735.4" r="0.8"/><circle cx="50.6" cy="731.4" r="0.8"/><circle cx="64.6" cy="733.4" r="0.8"/><circle cx="102.6" cy="724.4" r="0.8"/><circle cx="82.5" cy="735.4" r="0.8"/><circle cx="83.6" cy="731.4" r="0.8"/><circle cx="100.7" cy="733.4" r="0.8"/><circle cx="81.7" cy="730.4" r="0.8"/><circle cx="91.5" cy="735.4" r="0.8"/><circle cx="106.0" cy="733.4" r="0.8"/><circle cx="88.7" cy="734.4" r="0.8"/><circle cx="103.2" cy="735.4" r="0.8"/><circle cx="104.4" cy="720.3" r="0.8"/><circle cx="98.0" cy="734.4" r="0.8"/><circle cx="73.7" cy="733.4" r="0.8"/><circle cx="90.1" cy="730.4" r="0.8"/><circle cx="92.5" cy="733.4" r="0.8"/><circle cx="79.8" cy="733.4" r="0.8"/><circle cx="94.0" cy="732.4" r="0.8"/><circle cx="107.5" cy="733.4" r="0.8"/><circle cx="97.0" cy="725.4" r="0.8"/><circle cx="89.4" cy="734.4" r="0.8"/><circle cx="105.3" cy="731.4" r="0.8"/><circle cx="107.1" cy="735.4" r="0.8"/><circle cx="98.4" cy="728.4" r="0.8"/><circle cx="103.6" cy="734.4" r="0.8"/><circle cx="87.3" cy="732.4" r="0.8"/><circle cx="102.7" cy="734.4" r="0.8"/><circle cx="96.8" cy="735.4" r="0.8"/><circle cx="106.8" cy="731.4" r="0.8"/><circle cx="89.7" cy="735.4" r="0.8"/><circle cx="76.1" cy="735.4" r="0.8"/><circle cx="96.7" cy="730.4" r="0.8"/><circle cx="108.2" cy="730.4" r="0.8"/><circle cx="110.4" cy="734.4" r="0.8"/><circle cx="114.7" cy="731.4" r="0.8"/><circle cx="131.7" cy="735.4" r="0.8"/><circle cx="125.3" cy="733.4" r="0.8"/><circle cx="108.5" cy="731.4" r="0.8"/><circle cx="122.8" cy="732.4" r="0.8"/><circle cx="129.2" cy="733.4" r="0.8"/><circle cx="125.5" cy="734.4" r="0.8"/><circle cx="127.6" cy="735.4" r="0.8"/><circle cx="114.3" cy="732.4" r="0.8"/><circle cx="139.6" cy="733.4" r="0.8"/><circle cx="153.8" cy="720.3" r="0.8"/><circle cx="135.3" cy="735.4" r="0.8"/><circle cx="141.1" cy="731.4" r="0.8"/><circle cx="136.5" cy="732.4" r="0.8"/><circle cx="153.9" cy="727.4" r="0.8"/><circle cx="154.2" cy="733.4" r="0.8"/><circle cx="144.0" cy="732.4" r="0.8"/><circle cx="142.8" cy="733.4" r="0.8"/><circle cx="154.7" cy="734.4" r="0.8"/><circle cx="158.2" cy="730.4" r="0.8"/><circle cx="142.9" cy="734.4" r="0.8"/><circle cx="156.1" cy="733.4" r="0.8"/><circle cx="148.5" cy="735.4" r="0.8"/><circle cx="140.1" cy="732.4" r="0.8"/><circle cx="149.2" cy="730.4" r="0.8"/><circle cx="155.4" cy="731.4" r="0.8"/><circle cx="142.3" cy="733.4" r="0.8"/><circle cx="141.4" cy="724.4" r="0.8"/><circle cx="136.5" cy="735.4" r="0.8"/><circle cx="143.0" cy="732.4" r="0.8"/><circle cx="148.4" cy="729.4" r="0.8"/><circle cx="155.5" cy="725.4" r="0.8"/><circle cx="159.5" cy="732.4" r="0.8"/><circle cx="152.9" cy="733.4" r="0.8"/><circle cx="145.3" cy="734.4" r="0.8"/><circle cx="141.9" cy="732.4" r="0.8"/><circle cx="154.7" cy="723.4" r="0.8"/><circle cx="154.1" cy="731.4" r="0.8"/><circle cx="158.2" cy="734.4" r="0.8"/><circle cx="140.1" cy="724.4" r="0.8"/><circle cx="143.2" cy="732.4" r="0.8"/><circle cx="140.1" cy="734.4" r="0.8"/><circle cx="138.4" cy="728.4" r="0.8"/><circle cx="138.0" cy="730.4" r="0.8"/><circle cx="135.6" cy="735.4" r="0.8"/><circle cx="155.9" cy="727.4" r="0.8"/><circle cx="151.8" cy="733.4" r="0.8"/><circle cx="152.3" cy="730.4" r="0.8"/><circle cx="152.0" cy="730.4" r="0.8"/><circle cx="146.3" cy="726.4" r="0.8"/><circle cx="148.9" cy="734.4" r="0.8"/><circle cx="139.5" cy="734.4" r="0.8"/><circle cx="137.9" cy="735.4" r="0.8"/><circle cx="150.8" cy="735.4" r="0.8"/><circle cx="158.5" cy="729.4" r="0.8"/><circle cx="155.0" cy="734.4" r="0.8"/><circle cx="150.3" cy="734.4" r="0.8"/><circle cx="143.5" cy="731.4" r="0.8"/><circle cx="168.8" cy="735.4" r="0.8"/><circle cx="182.5" cy="733.4" r="0.8"/><circle cx="168.7" cy="734.4" r="0.8"/><circle cx="176.1" cy="735.4" r="0.8"/><circle cx="181.8" cy="734.4" r="0.8"/><circle cx="177.4" cy="734.4" r="0.8"/><circle cx="184.7" cy="735.4" r="0.8"/><circle cx="177.6" cy="735.4" r="0.8"/><circle cx="193.6" cy="732.4" r="0.8"/><circle cx="166.1" cy="734.4" r="0.8"/><circle cx="180.3" cy="734.4" r="0.8"/><circle cx="168.6" cy="728.4" r="0.8"/><circle cx="165.7" cy="734.4" r="0.8"/><circle cx="179.6" cy="733.4" r="0.8"/><circle cx="193.9" cy="714.3" r="0.8"/><circle cx="177.9" cy="735.4" r="0.8"/><circle cx="187.9" cy="728.4" r="0.8"/><circle cx="168.0" cy="735.4" r="0.8"/><circle cx="171.2" cy="735.4" r="0.8"/><circle cx="172.2" cy="732.4" r="0.8"/><circle cx="212.1" cy="732.4" r="0.8"/><circle cx="223.8" cy="733.4" r="0.8"/><circle cx="199.1" cy="732.4" r="0.8"/><circle cx="214.3" cy="735.4" r="0.8"/><circle cx="208.0" cy="735.4" r="0.8"/><circle cx="235.1" cy="732.4" r="0.8"/><circle cx="234.9" cy="735.4" r="0.8"/><circle cx="217.0" cy="733.4" r="0.8"/><circle cx="217.9" cy="732.4" r="0.8"/><circle cx="229.6" cy="732.4" r="0.8"/><circle cx="204.6" cy="732.4" r="0.8"/><circle cx="234.1" cy="734.4" r="0.8"/><circle cx="197.1" cy="726.4" r="0.8"/><circle cx="217.6" cy="734.4" r="0.8"/><circle cx="226.6" cy="735.4" r="0.8"/><circle cx="228.9" cy="735.4" r="0.8"/><circle cx="215.7" cy="735.4" r="0.8"/><circle cx="213.7" cy="735.4" r="0.8"/><circle cx="199.1" cy="731.4" r="0.8"/><circle cx="213.4" cy="730.4" r="0.8"/><circle cx="220.6" cy="733.4" r="0.8"/><circle cx="206.5" cy="733.4" r="0.8"/><circle cx="212.5" cy="735.4" r="0.8"/><circle cx="211.6" cy="730.4" r="0.8"/><circle cx="229.8" cy="730.4" r="0.8"/><circle cx="227.5" cy="735.4" r="0.8"/><circle cx="229.6" cy="734.4" r="0.8"/><circle cx="202.3" cy="735.4" r="0.8"/><circle cx="259.4" cy="734.4" r="0.8"/><circle cx="255.2" cy="723.4" r="0.8"/><circle cx="250.2" cy="730.4" r="0.8"/><circle cx="279.5" cy="733.4" r="0.8"/><circle cx="242.4" cy="728.4" r="0.8"/><circle cx="256.5" cy="731.4" r="0.8"/><circle cx="282.5" cy="732.4" r="0.8"/><circle cx="249.9" cy="725.4" r="0.8"/><circle cx="282.7" cy="734.4" r="0.8"/><circle cx="261.3" cy="732.4" r="0.8"/><circle cx="244.2" cy="734.4" r="0.8"/><circle cx="282.0" cy="735.4" r="0.8"/><circle cx="279.9" cy="727.4" r="0.8"/><circle cx="283.1" cy="727.4" r="0.8"/><circle cx="269.5" cy="735.4" r="0.8"/><circle cx="248.6" cy="732.4" r="0.8"/><circle cx="258.1" cy="732.4" r="0.8"/><circle cx="276.1" cy="735.4" r="0.8"/><circle cx="247.7" cy="733.4" r="0.8"/><circle cx="270.1" cy="734.4" r="0.8"/><circle cx="257.1" cy="735.4" r="0.8"/><circle cx="271.0" cy="727.4" r="0.8"/><circle cx="283.3" cy="733.4" r="0.8"/><circle cx="246.1" cy="728.4" r="0.8"/><circle cx="258.6" cy="734.4" r="0.8"/><circle cx="240.5" cy="734.4" r="0.8"/><circle cx="264.2" cy="735.4" r="0.8"/><circle cx="257.6" cy="733.4" r="0.8"/><circle cx="305.0" cy="735.4" r="0.8"/><circle cx="284.9" cy="733.4" r="0.8"/><circle cx="322.4" cy="727.4" r="0.8"/><circle cx="327.5" cy="735.4" r="0.8"/><circle cx="293.8" cy="733.4" r="0.8"/><circle cx="316.4" cy="734.4" r="0.8"/><circle cx="304.4" cy="734.4" r="0.8"/><circle cx="286.1" cy="734.4" r="0.8"/><circle cx="292.0" cy="731.4" r="0.8"/><circle cx="321.3" cy="730.4" r="0.8"/><circle cx="299.1" cy="731.4" r="0.8"/><circle cx="308.9" cy="735.4" r="0.8"/><circle cx="311.0" cy="735.4" r="0.8"/><circle cx="301.7" cy="733.4" r="0.8"/><circle cx="312.2" cy="727.4" r="0.8"/><circle cx="292.6" cy="730.4" r="0.8"/><circle cx="286.7" cy="732.4" r="0.8"/><circle cx="320.8" cy="731.4" r="0.8"/><circle cx="292.3" cy="735.4" r="0.8"/><circle cx="311.6" cy="735.4" r="0.8"/><circle cx="293.2" cy="733.4" r="0.8"/><circle cx="290.0" cy="727.4" r="0.8"/><circle cx="325.9" cy="732.4" r="0.8"/><circle cx="297.0" cy="730.4" r="0.8"/><circle cx="324.6" cy="733.4" r="0.8"/><circle cx="323.0" cy="732.4" r="0.8"/><circle cx="291.1" cy="734.4" r="0.8"/><circle cx="315.1" cy="725.4" r="0.8"/><circle cx="294.7" cy="717.3" r="0.8"/><circle cx="322.0" cy="735.4" r="0.8"/><circle cx="363.8" cy="735.4" r="0.8"/><circle cx="349.0" cy="728.4" r="0.8"/><circle cx="339.2" cy="735.4" r="0.8"/><circle cx="343.6" cy="732.4" r="0.8"/><circle cx="339.5" cy="726.4" r="0.8"/><circle cx="339.5" cy="735.4" r="0.8"/><circle cx="353.6" cy="733.4" r="0.8"/><circle cx="355.1" cy="733.4" r="0.8"/><circle cx="336.6" cy="728.4" r="0.8"/><circle cx="352.6" cy="733.4" r="0.8"/><circle cx="351.4" cy="733.4" r="0.8"/><circle cx="351.3" cy="731.4" r="0.8"/><circle cx="351.7" cy="733.4" r="0.8"/><circle cx="337.8" cy="735.4" r="0.8"/><circle cx="343.1" cy="729.4" r="0.8"/><circle cx="347.7" cy="735.4" r="0.8"/><circle cx="342.7" cy="734.4" r="0.8"/><circle cx="347.7" cy="734.4" r="0.8"/><circle cx="357.2" cy="733.4" r="0.8"/><circle cx="346.0" cy="728.4" r="0.8"/><circle cx="356.0" cy="710.3" r="0.8"/><circle cx="357.2" cy="735.4" r="0.8"/><circle cx="338.8" cy="733.4" r="0.8"/><circle cx="349.9" cy="726.4" r="0.8"/><circle cx="353.1" cy="729.4" r="0.8"/><circle cx="348.5" cy="723.4" r="0.8"/><circle cx="340.6" cy="735.4" r="0.8"/><circle cx="351.1" cy="728.4" r="0.8"/><circle cx="346.2" cy="733.4" r="0.8"/><circle cx="348.4" cy="730.4" r="0.8"/><circle cx="348.9" cy="734.4" r="0.8"/><circle cx="338.3" cy="717.3" r="0.8"/><circle cx="339.9" cy="729.4" r="0.8"/><circle cx="339.3" cy="734.4" r="0.8"/><circle cx="359.8" cy="724.4" r="0.8"/><circle cx="293.6" cy="735.4" r="0.8"/><circle cx="304.4" cy="735.4" r="0.8"/><circle cx="206.0" cy="735.4" r="0.8"/><circle cx="349.5" cy="735.4" r="0.8"/><circle cx="355.6" cy="735.4" r="0.8"/><circle cx="359.4" cy="735.4" r="0.8"/><circle cx="102.7" cy="735.4" r="0.8"/><circle cx="337.4" cy="735.4" r="0.8"/><circle cx="161.3" cy="735.4" r="0.8"/><circle cx="182.0" cy="735.4" r="0.8"/><circle cx="318.0" cy="734.4" r="0.8"/><circle cx="171.5" cy="735.4" r="0.8"/><circle cx="77.1" cy="735.4" r="0.8"/><circle cx="285.5" cy="735.4" r="0.8"/><circle cx="131.8" cy="735.4" r="0.8"/><circle cx="330.8" cy="735.4" r="0.8"/><circle cx="100.0" cy="735.4" r="0.8"/><circle cx="186.7" cy="735.4" r="0.8"/><circle cx="45.3" cy="668.9" r="0.8"/><circle cx="49.0" cy="685.1" r="0.8"/><circle cx="48.6" cy="691.1" r="0.8"/><circle cx="51.7" cy="710.3" r="0.8"/><circle cx="44.6" cy="711.3" r="0.8"/><circle cx="45.1" cy="714.3" r="0.8"/><circle cx="45.5" cy="716.3" r="0.8"/><circle cx="66.8" cy="707.2" r="0.8"/><circle cx="88.1" cy="676.0" r="0.8"/><circle cx="90.8" cy="716.3" r="0.8"/><circle cx="85.9" cy="719.3" r="0.8"/><circle cx="97.3" cy="721.3" r="0.8"/><circle cx="120.0" cy="721.3" r="0.8"/><circle cx="143.0" cy="695.1" r="0.8"/><circle cx="136.4" cy="711.3" r="0.8"/><circle cx="137.7" cy="711.3" r="0.8"/><circle cx="148.9" cy="689.1" r="0.8"/><circle cx="148.9" cy="690.1" r="0.8"/><circle cx="150.3" cy="697.2" r="0.8"/><circle cx="150.7" cy="625.6" r="0.8"/><circle cx="150.5" cy="642.8" r="0.8"/><circle cx="150.5" cy="661.9" r="0.8"/><circle cx="148.7" cy="715.3" r="0.8"/><circle cx="149.6" cy="716.3" r="0.8"/><circle cx="150.5" cy="717.3" r="0.8"/><circle cx="138.6" cy="721.3" r="0.8"/><circle cx="139.9" cy="720.3" r="0.8"/><circle cx="161.7" cy="724.4" r="0.8"/><circle cx="178.2" cy="720.3" r="0.8"/><circle cx="179.9" cy="714.3" r="0.8"/><circle cx="236.3" cy="676.0" r="0.8"/><circle cx="210.0" cy="709.2" r="0.8"/><circle cx="209.3" cy="712.3" r="0.8"/><circle cx="205.6" cy="715.3" r="0.8"/><circle cx="230.9" cy="713.3" r="0.8"/><circle cx="256.8" cy="695.1" r="0.8"/><circle cx="256.1" cy="717.3" r="0.8"/><circle cx="256.8" cy="720.3" r="0.8"/><circle cx="267.1" cy="725.4" r="0.8"/><circle cx="282.5" cy="725.4" r="0.8"/><circle cx="288.0" cy="716.3" r="0.8"/><circle cx="295.6" cy="718.3" r="0.8"/><circle cx="296.7" cy="722.3" r="0.8"/><circle cx="316.5" cy="704.2" r="0.8"/><circle cx="316.5" cy="707.2" r="0.8"/><circle cx="318.3" cy="711.3" r="0.8"/><circle cx="304.4" cy="721.3" r="0.8"/><circle cx="338.5" cy="717.3" r="0.8"/><circle cx="338.9" cy="720.3" r="0.8"/><circle cx="351.6" cy="694.1" r="0.8"/><circle cx="353.8" cy="704.2" r="0.8"/><circle cx="354.5" cy="705.2" r="0.8"/><circle cx="352.1" cy="712.3" r="0.8"/><circle cx="365.9" cy="706.2" r="0.8"/><circle cx="361.5" cy="725.4" r="0.8"/></g>
<g fill="#1f77b4"><circle cx="50.1" cy="735.4" r="0.8"/><circle cx="50.0" cy="734.4" r="0.8"/><circle cx="44.4" cy="734.4" r="0.8"/><circle cx="51.2" cy="735.4" r="0.8"/><circle cx="61.1" cy="735.4" r="0.8"/><circle cx="57.2" cy="734.4" r="0.8"/><circle cx="94.9" cy="732.4" r="0.8"/><circle cx="82.3" cy="735.4" r="0.8"/><circle cx="92.7" cy="735.4" r="0.8"/><circle cx="91.6" cy="735.4" r="0.8"/><circle cx="74.0" cy="734.4" r="0.8"/><circle cx="98.8" cy="733.4" r="0.8"/><circle cx="83.8" cy="733.4" r="0.8"/><circle cx="92.8" cy="733.4" r="0.8"/><circle cx="95.0" cy="735.4" r="0.8"/><circle cx="112.9" cy="734.4" r="0.8"/><circle cx="116.6" cy="734.4" r="0.8"/><circle cx="112.8" cy="735.4" r="0.8"/><circle cx="110.5" cy="730.4" r="0.8"/><circle cx="160.3" cy="735.4" r="0.8"/><circle cx="138.3" cy="735.4" r="0.8"/><circle cx="150.7" cy="735.4" r="0.8"/><circle cx="150.9" cy="735.4" r="0.8"/><circle cx="143.6" cy="735.4" r="0.8"/><circle cx="144.0" cy="735.4" r="0.8"/><circle cx="147.3" cy="735.4" r="0.8"/><circle cx="138.0" cy="734.4" r="0.8"/><circle cx="153.7" cy="734.4" r="0.8"/><circle cx="140.0" cy="734.4" r="0.8"/><circle cx="144.6" cy="734.4" r="0.8"/><circle cx="160.2" cy="733.4" r="0.8"/><circle cx="139.4" cy="735.4" r="0.8"/><circle cx="157.3" cy="735.4" r="0.8"/><circle cx="154.0" cy="734.4" r="0.8"/><circle cx="150.4" cy="731.4" r="0.8"/><circle cx="152.6" cy="735.4" r="0.8"/><circle cx="173.1" cy="734.4" r="0.8"/><circle cx="187.4" cy="733.4" r="0.8"/><circle cx="165.9" cy="735.4" r="0.8"/><circle cx="190.7" cy="733.4" r="0.8"/><circle cx="209.2" cy="732.4" r="0.8"/><circle cx="220.1" cy="735.4" r="0.8"/><circle cx="213.8" cy="734.4" r="0.8"/><circle cx="273.4" cy="734.4" r="0.8"/><circle cx="241.2" cy="733.4" r="0.8"/><circle cx="254.6" cy="735.4" r="0.8"/><circle cx="264.3" cy="735.4" r="0.8"/><circle cx="250.6" cy="734.4" r="0.8"/><circle cx="267.5" cy="734.4" r="0.8"/><circle cx="254.0" cy="733.4" r="0.8"/><circle cx="248.2" cy="734.4" r="0.8"/><circle cx="257.2" cy="735.4" r="0.8"/><circle cx="260.8" cy="735.4" r="0.8"/><circle cx="239.8" cy="735.4" r="0.8"/><circle cx="290.4" cy="735.4" r="0.8"/><circle cx="297.0" cy="735.4" r="0.8"/><circle cx="291.1" cy="735.4" r="0.8"/><circle cx="288.8" cy="735.4" r="0.8"/><circle cx="286.2" cy="733.4" r="0.8"/><circle cx="295.9" cy="735.4" r="0.8"/><circle cx="295.7" cy="735.4" r="0.8"/><circle cx="290.9" cy="735.4" r="0.8"/><circle cx="299.7" cy="732.4" r="0.8"/><circle cx="300.0" cy="733.4" r="0.8"/><circle cx="289.2" cy="734.4" r="0.8"/><circle cx="301.1" cy="735.4" r="0.8"/><circle cx="312.1" cy="730.4" r="0.8"/><circle cx="306.0" cy="735.4" r="0.8"/><circle cx="347.7" cy="732.4" r="0.8"/><circle cx="345.7" cy="734.4" r="0.8"/><circle cx="356.2" cy="735.4" r="0.8"/><circle cx="348.0" cy="735.4" r="0.8"/><circle cx="337.3" cy="735.4" r="0.8"/><circle cx="354.7" cy="733.4" r="0.8"/><circle cx="351.6" cy="735.4" r="0.8"/><circle cx="353.2" cy="734.4" r="0.8"/><circle cx="365.7" cy="734.4" r="0.8"/><circle cx="341.3" cy="735.4" r="0.8"/><circle cx="340.9" cy="735.4" r="0.8"/><circle cx="353.2" cy="735.4" r="0.8"/><circle cx="350.0" cy="734.4" r="0.8"/><circle cx="342.4" cy="735.4" r="0.8"/><circle cx="364.7" cy="735.4" r="0.8"/><circle cx="159.0" cy="735.4" r="0.8"/><circle cx="187.4" cy="735.4" r="0.8"/><circle cx="99.0" cy="735.4" r="0.8"/><circle cx="287.3" cy="735.4" r="0.8"/><circle cx="352.3" cy="735.4" r="0.8"/><circle cx="338.1" cy="735.4" r="0.8"/><circle cx="227.7" cy="735.4" r="0.8"/><circle cx="198.6" cy="735.4" r="0.8"/><circle cx="86.8" cy="735.4" r="0.8"/><circle cx="272.3" cy="735.4" r="0.8"/><circle cx="226.6" cy="735.4" r="0.8"/><circle cx="141.1" cy="735.4" r="0.8"/><circle cx="82.9" cy="735.4" r="0.8"/><circle cx="136.8" cy="734.4" r="0.8"/></g>
<g fill="#ff7f0e"><circle cx="50.6" cy="735.4" r="0.8"/><circle cx="51.7" cy="735.4" r="0.8"/><circle cx="43.9" cy="734.4" r="0.8"/><circle cx="46.9" cy="735.4" r="0.8"/><circle cx="44.3" cy="735.4" r="0.8"/><circle cx="48.4" cy="735.4" r="0.8"/><circle cx="49.7" cy="733.4" r="0.8"/><circle cx="58.9" cy="734.4" r="0.8"/><circle cx="58.2" cy="734.4" r="0.8"/><circle cx="105.5" cy="735.4" r="0.8"/><circle cx="74.3" cy="735.4" r="0.8"/><circle cx="88.9" cy="735.4" r="0.8"/><circle cx="76.6" cy="734.4" r="0.8"/><circle cx="75.8" cy="735.4" r="0.8"/><circle cx="102.0" cy="735.4" r="0.8"/><circle cx="110.1" cy="735.4" r="0.8"/><circle cx="128.4" cy="735.4" r="0.8"/><circle cx="128.0" cy="735.4" r="0.8"/><circle cx="126.4" cy="731.4" r="0.8"/><circle cx="114.6" cy="735.4" r="0.8"/><circle cx="127.9" cy="735.4" r="0.8"/><circle cx="122.4" cy="732.4" r="0.8"/><circle cx="132.6" cy="735.4" r="0.8"/><circle cx="123.6" cy="732.4" r="0.8"/><circle cx="119.0" cy="734.4" r="0.8"/><circle cx="145.0" cy="735.4" r="0.8"/><circle cx="142.5" cy="735.4" r="0.8"/><circle cx="158.1" cy="734.4" r="0.8"/><circle cx="137.3" cy="735.4" r="0.8"/><circle cx="151.1" cy="735.4" r="0.8"/><circle cx="153.9" cy="734.4" r="0.8"/><circle cx="144.7" cy="734.4" r="0.8"/><circle cx="155.7" cy="735.4" r="0.8"/><circle cx="158.3" cy="734.4" r="0.8"/><circle cx="138.5" cy="734.4" r="0.8"/><circle cx="142.7" cy="735.4" r="0.8"/><circle cx="147.0" cy="733.4" r="0.8"/><circle cx="137.8" cy="731.4" r="0.8"/><circle cx="140.7" cy="734.4" r="0.8"/><circle cx="134.6" cy="734.4" r="0.8"/><circle cx="138.2" cy="732.4" r="0.8"/><circle cx="143.0" cy="735.4" r="0.8"/><circle cx="160.3" cy="735.4" r="0.8"/><circle cx="136.1" cy="733.4" r="0.8"/><circle cx="155.9" cy="735.4" r="0.8"/><circle cx="137.0" cy="735.4" r="0.8"/><circle cx="185.6" cy="734.4" r="0.8"/><circle cx="176.9" cy="735.4" r="0.8"/><circle cx="177.6" cy="734.4" r="0.8"/><circle cx="191.3" cy="734.4" r="0.8"/><circle cx="181.1" cy="735.4" r="0.8"/><circle cx="183.9" cy="734.4" r="0.8"/><circle cx="178.7" cy="732.4" r="0.8"/><circle cx="190.0" cy="735.4" r="0.8"/><circle cx="207.7" cy="734.4" r="0.8"/><circle cx="236.0" cy="735.4" r="0.8"/><circle cx="198.1" cy="735.4" r="0.8"/><circle cx="209.9" cy="735.4" r="0.8"/><circle cx="233.3" cy="735.4" r="0.8"/><circle cx="209.4" cy="735.4" r="0.8"/><circle cx="215.6" cy="735.4" r="0.8"/><circle cx="251.0" cy="735.4" r="0.8"/><circle cx="249.4" cy="735.4" r="0.8"/><circle cx="240.7" cy="735.4" r="0.8"/><circle cx="279.6" cy="735.4" r="0.8"/><circle cx="267.2" cy="734.4" r="0.8"/><circle cx="278.3" cy="732.4" r="0.8"/><circle cx="271.1" cy="734.4" r="0.8"/><circle cx="252.5" cy="735.4" r="0.8"/><circle cx="250.8" cy="735.4" r="0.8"/><circle cx="271.3" cy="734.4" r="0.8"/><circle cx="282.7" cy="734.4" r="0.8"/><circle cx="322.5" cy="735.4" r="0.8"/><circle cx="306.9" cy="735.4" r="0.8"/><circle cx="286.9" cy="732.4" r="0.8"/><circle cx="314.2" cy="733.4" r="0.8"/><circle cx="324.9" cy="735.4" r="0.8"/><circle cx="306.1" cy="735.4" r="0.8"/><circle cx="306.2" cy="735.4" r="0.8"/><circle cx="309.5" cy="735.4" r="0.8"/><circle cx="292.3" cy="735.4" r="0.8"/><circle cx="331.6" cy="735.4" r="0.8"/><circle cx="304.1" cy="735.4" r="0.8"/><circle cx="300.3" cy="735.4" r="0.8"/><circle cx="286.7" cy="735.4" r="0.8"/><circle cx="330.7" cy="735.4" r="0.8"/><circle cx="290.5" cy="735.4" r="0.8"/><circle cx="343.9" cy="735.4" r="0.8"/><circle cx="339.6" cy="735.4" r="0.8"/><circle cx="339.7" cy="735.4" r="0.8"/><circle cx="361.1" cy="734.4" r="0.8"/><circle cx="351.3" cy="734.4" r="0.8"/><circle cx="350.0" cy="734.4" r="0.8"/><circle cx="342.8" cy="735.4" r="0.8"/><circle cx="344.7" cy="735.4" r="0.8"/><circle cx="349.5" cy="735.4" r="0.8"/><circle cx="357.5" cy="735.4" r="0.8"/><circle cx="361.0" cy="735.4" r="0.8"/><circle cx="358.3" cy="733.4" r="0.8"/><circle cx="153.0" cy="735.4" r="0.8"/><circle cx="154.4" cy="735.4" r="0.8"/><circle cx="360.0" cy="735.4" r="0.8"/><circle cx="104.9" cy="735.4" r="0.8"/><circle cx="205.6" cy="735.4" r="0.8"/><circle cx="177.6" cy="735.4" r="0.8"/><circle cx="76.0" cy="719.3" r="0.8"/><circle cx="77.1" cy="719.3" r="0.8"/><circle cx="172.7" cy="725.4" r="0.8"/><circle cx="173.8" cy="727.4" r="0.8"/><circle cx="156.2" cy="728.4" r="0.8"/><circle cx="157.3" cy="729.4" r="0.8"/><circle cx="158.4" cy="730.4" r="0.8"/><circle cx="347.2" cy="723.4" r="0.8"/><circle cx="352.7" cy="721.3" r="0.8"/><circle cx="259.4" cy="727.4" r="0.8"/></g>
<rect x="28.5" y="620.6" width="353.80" height="120.65" fill="none" stroke="#444444" stroke-width="0.7"/>
<text x="42.0" y="749.4" font-size="5.3" class="dj" text-anchor="middle">0</text>
<text x="85.9" y="749.4" font-size="5.3" class="dj" text-anchor="middle">200</text>
<text x="129.8" y="749.4" font-size="5.3" class="dj" text-anchor="middle">400</text>
<text x="173.8" y="749.4" font-size="5.3" class="dj" text-anchor="middle">600</text>
<text x="217.7" y="749.4" font-size="5.3" class="dj" text-anchor="middle">800</text>
<text x="261.6" y="749.4" font-size="5.3" class="dj" text-anchor="middle">1000</text>
<text x="305.5" y="749.4" font-size="5.3" class="dj" text-anchor="middle">1200</text>
<text x="349.4" y="749.4" font-size="5.3" class="dj" text-anchor="middle">1400</text>
<text x="25.1" y="738.4" font-size="5.3" class="dj" text-anchor="end">0</text>
<text x="25.1" y="718.2" font-size="5.3" class="dj" text-anchor="end">20</text>
<text x="25.1" y="698.1" font-size="5.3" class="dj" text-anchor="end">40</text>
<text x="25.1" y="677.9" font-size="5.3" class="dj" text-anchor="end">60</text>
<text x="25.1" y="657.8" font-size="5.3" class="dj" text-anchor="end">80</text>
<text x="25.1" y="637.6" font-size="5.3" class="dj" text-anchor="end">100</text>
<path d="M42.0 741.25v2M85.9 741.25v2M129.8 741.25v2M173.8 741.25v2M217.7 741.25v2M261.6 741.25v2M305.5 741.25v2M349.4 741.25v2M28.5 736.5h-2M28.5 716.3h-2M28.5 696.2h-2M28.5 676.0h-2M28.5 655.9h-2M28.5 635.7h-2" stroke="#333" stroke-width="0.8"/>
<text x="205" y="616.2" font-size="6.3" class="dj" text-anchor="middle" textLength="111.7" lengthAdjust="spacingAndGlyphs">All off-targets for Ityp01729-mRNA</text>
<text transform="translate(9.0 723.4) rotate(-90)" font-size="10" textLength="90" lengthAdjust="spacingAndGlyphs">Number of gene hits</text>
<text x="153.5" y="764.7" font-size="12.4" textLength="84.2" lengthAdjust="spacingAndGlyphs">Position (5 &gt; 3)</text>
<g fill="#ff7f0e"><circle cx="655.5" cy="625.5" r="0.85"/><circle cx="506.5" cy="680.4" r="0.85"/><circle cx="433.7" cy="735.4" r="0.85"/><circle cx="665.2" cy="735.4" r="0.85"/><circle cx="706.5" cy="735.4" r="0.85"/><circle cx="707.2" cy="735.4" r="0.85"/><circle cx="743.2" cy="735.4" r="0.85"/></g>
<g fill="#d62728"><circle cx="662.7" cy="625.5" r="0.85"/><circle cx="591.7" cy="680.4" r="0.85"/><circle cx="477.5" cy="735.4" r="0.85"/><circle cx="486.1" cy="735.4" r="0.85"/><circle cx="487.1" cy="735.4" r="0.85"/><circle cx="488.0" cy="735.4" r="0.85"/><circle cx="488.9" cy="735.4" r="0.85"/><circle cx="489.8" cy="735.4" r="0.85"/><circle cx="490.8" cy="735.4" r="0.85"/><circle cx="491.7" cy="735.4" r="0.85"/><circle cx="611.4" cy="735.4" r="0.85"/><circle cx="612.3" cy="735.4" r="0.85"/><circle cx="613.3" cy="735.4" r="0.85"/><circle cx="624.6" cy="735.4" r="0.85"/><circle cx="625.6" cy="735.4" r="0.85"/><circle cx="626.5" cy="735.4" r="0.85"/><circle cx="627.4" cy="735.4" r="0.85"/><circle cx="628.3" cy="735.4" r="0.85"/><circle cx="629.3" cy="735.4" r="0.85"/><circle cx="631.6" cy="735.4" r="0.85"/><circle cx="632.7" cy="735.4" r="0.85"/><circle cx="662.7" cy="735.4" r="0.85"/><circle cx="663.4" cy="735.4" r="0.85"/><circle cx="678.7" cy="735.4" r="0.85"/><circle cx="726.2" cy="735.4" r="0.85"/><circle cx="727.2" cy="735.4" r="0.85"/><circle cx="728.1" cy="735.4" r="0.85"/><circle cx="729.0" cy="735.4" r="0.85"/><circle cx="730.0" cy="735.4" r="0.85"/><circle cx="730.9" cy="735.4" r="0.85"/><circle cx="751.3" cy="735.4" r="0.85"/><circle cx="752.2" cy="735.4" r="0.85"/><circle cx="752.9" cy="735.4" r="0.85"/><circle cx="756.2" cy="735.4" r="0.85"/></g>
<g fill="#2ca02c"><circle cx="603.7" cy="680.4" r="0.85"/><circle cx="605.1" cy="680.4" r="0.85"/><circle cx="606.8" cy="680.4" r="0.85"/><circle cx="632.5" cy="680.4" r="0.85"/><circle cx="752.7" cy="680.4" r="0.85"/><circle cx="753.9" cy="680.4" r="0.85"/><circle cx="434.2" cy="680.4" r="0.85"/><circle cx="434.6" cy="735.4" r="0.85"/><circle cx="435.5" cy="735.4" r="0.85"/><circle cx="508.2" cy="735.4" r="0.85"/><circle cx="570.3" cy="735.4" r="0.85"/><circle cx="725.1" cy="735.4" r="0.85"/></g>
<g fill="#1f77b4"><circle cx="443.4" cy="680.4" r="0.85"/><circle cx="500.7" cy="680.4" r="0.85"/><circle cx="546.9" cy="680.4" r="0.85"/><circle cx="464.1" cy="735.4" r="0.85"/><circle cx="484.5" cy="735.4" r="0.85"/><circle cx="529.7" cy="735.4" r="0.85"/><circle cx="530.4" cy="735.4" r="0.85"/><circle cx="539.0" cy="735.4" r="0.85"/><circle cx="539.9" cy="735.4" r="0.85"/><circle cx="545.3" cy="735.4" r="0.85"/><circle cx="653.9" cy="735.4" r="0.85"/><circle cx="654.8" cy="735.4" r="0.85"/><circle cx="655.7" cy="735.4" r="0.85"/><circle cx="719.1" cy="735.4" r="0.85"/><circle cx="740.6" cy="735.4" r="0.85"/></g>
<g fill="#9467bd"><circle cx="482.9" cy="735.4" r="0.85"/><circle cx="546.2" cy="735.4" r="0.85"/><circle cx="547.1" cy="735.4" r="0.85"/><circle cx="548.1" cy="735.4" r="0.85"/><circle cx="549.0" cy="735.4" r="0.85"/><circle cx="549.9" cy="735.4" r="0.85"/><circle cx="550.9" cy="735.4" r="0.85"/><circle cx="551.8" cy="735.4" r="0.85"/><circle cx="582.4" cy="735.4" r="0.85"/><circle cx="584.3" cy="735.4" r="0.85"/><circle cx="714.4" cy="735.4" r="0.85"/></g>
<rect x="417.5" y="620.5" width="354.70" height="121.00" fill="none" stroke="#444444" stroke-width="0.7"/>
<text x="426.5" y="749.6" font-size="5.3" class="dj" text-anchor="middle">0</text>
<text x="472.9" y="749.6" font-size="5.3" class="dj" text-anchor="middle">200</text>
<text x="519.3" y="749.6" font-size="5.3" class="dj" text-anchor="middle">400</text>
<text x="565.7" y="749.6" font-size="5.3" class="dj" text-anchor="middle">600</text>
<text x="612.1" y="749.6" font-size="5.3" class="dj" text-anchor="middle">800</text>
<text x="658.5" y="749.6" font-size="5.3" class="dj" text-anchor="middle">1000</text>
<text x="704.9" y="749.6" font-size="5.3" class="dj" text-anchor="middle">1200</text>
<text x="751.3" y="749.6" font-size="5.3" class="dj" text-anchor="middle">1400</text>
<text x="414.1" y="737.3" font-size="5.3" class="dj" text-anchor="end">1.00</text>
<text x="414.1" y="723.6" font-size="5.3" class="dj" text-anchor="end">1.25</text>
<text x="414.1" y="709.8" font-size="5.3" class="dj" text-anchor="end">1.50</text>
<text x="414.1" y="696.1" font-size="5.3" class="dj" text-anchor="end">1.75</text>
<text x="414.1" y="682.3" font-size="5.3" class="dj" text-anchor="end">2.00</text>
<text x="414.1" y="668.6" font-size="5.3" class="dj" text-anchor="end">2.25</text>
<text x="414.1" y="654.9" font-size="5.3" class="dj" text-anchor="end">2.50</text>
<text x="414.1" y="641.1" font-size="5.3" class="dj" text-anchor="end">2.75</text>
<text x="414.1" y="627.4" font-size="5.3" class="dj" text-anchor="end">3.00</text>
<path d="M426.5 741.5v2M472.9 741.5v2M519.3 741.5v2M565.7 741.5v2M612.1 741.5v2M658.5 741.5v2M704.9 741.5v2M751.3 741.5v2M417.5 735.4h-2M417.5 721.7h-2M417.5 707.9h-2M417.5 694.2h-2M417.5 680.4h-2M417.5 666.7h-2M417.5 653.0h-2M417.5 639.2h-2M417.5 625.5h-2" stroke="#333" stroke-width="0.8"/>
<text x="595.1" y="616.6" font-size="6.3" class="dj" text-anchor="middle" textLength="150.6" lengthAdjust="spacingAndGlyphs">Essential gene off-targets for Ityp01729-mRNA</text>
<text transform="translate(395.6 723.9) rotate(-90)" font-size="10" textLength="91" lengthAdjust="spacingAndGlyphs">Number of gene hits</text>
<text x="540.2" y="766.3" font-size="12.4" textLength="84.4" lengthAdjust="spacingAndGlyphs">Position (5 &gt; 3)</text>
<rect x="385.2" y="575.2" width="93.2" height="41.9" rx="1.4" fill="#fff" stroke="#d0d0d0" stroke-width="0.6"/>
<circle cx="393.1" cy="580.0" r="0.75" fill="#ff7f0e"/><text x="402.3" y="581.9" font-size="5.4" class="dj" text-anchor="start" textLength="38.6" lengthAdjust="spacingAndGlyphs">Apis mellifera</text>
<circle cx="393.1" cy="588.0" r="0.75" fill="#1f77b4"/><text x="402.3" y="589.9" font-size="5.4" class="dj" text-anchor="start" textLength="48.6" lengthAdjust="spacingAndGlyphs">Bombus terrestris</text>
<circle cx="393.1" cy="596.0" r="0.75" fill="#d62728"/><text x="402.3" y="597.9" font-size="5.4" class="dj" text-anchor="start" textLength="73.5" lengthAdjust="spacingAndGlyphs">Coccinella septempunctata</text>
<circle cx="393.1" cy="603.9" r="0.75" fill="#9467bd"/><text x="402.3" y="605.8" font-size="5.4" class="dj" text-anchor="start" textLength="53.2" lengthAdjust="spacingAndGlyphs">Chrysoperla carnea</text>
<circle cx="393.1" cy="611.9" r="0.75" fill="#2ca02c"/><text x="402.3" y="613.8" font-size="5.4" class="dj" text-anchor="start" textLength="38.2" lengthAdjust="spacingAndGlyphs">Homo sapiens</text>
</svg>
</body></html>
